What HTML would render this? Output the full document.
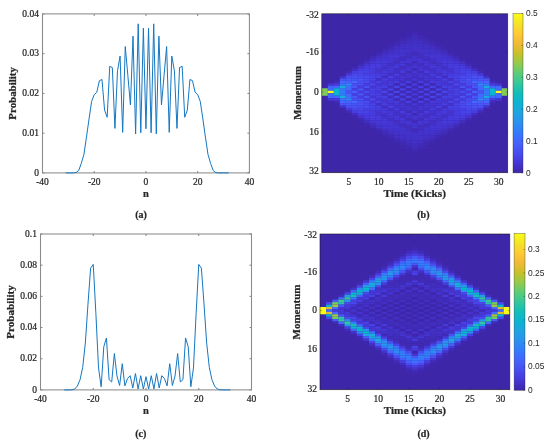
<!DOCTYPE html><html><head><meta charset="utf-8"><style>html,body{margin:0;padding:0;background:#fff;}svg{display:block}</style></head><body>
<svg width="550" height="443" viewBox="0 0 550 443" font-family="'Liberation Serif', serif" font-size="9.5" fill="#262626">
<style>text{stroke:#262626;stroke-width:0.22px;paint-order:stroke}</style>
<rect width="550" height="443" fill="#fff"/>
<rect x="42.5" y="13.9" width="206.9" height="159" fill="none" stroke="#8a8a8a" stroke-width="1.05"/>
<line x1="42.5" y1="172.9" x2="42.5" y2="170.9" stroke="#8a8a8a" stroke-width="1.05"/>
<line x1="42.5" y1="13.9" x2="42.5" y2="15.9" stroke="#8a8a8a" stroke-width="1.05"/>
<text x="42.5" y="185" text-anchor="middle">-40</text>
<line x1="94.22" y1="172.9" x2="94.22" y2="170.9" stroke="#8a8a8a" stroke-width="1.05"/>
<line x1="94.22" y1="13.9" x2="94.22" y2="15.9" stroke="#8a8a8a" stroke-width="1.05"/>
<text x="94.22" y="185" text-anchor="middle">-20</text>
<line x1="145.95" y1="172.9" x2="145.95" y2="170.9" stroke="#8a8a8a" stroke-width="1.05"/>
<line x1="145.95" y1="13.9" x2="145.95" y2="15.9" stroke="#8a8a8a" stroke-width="1.05"/>
<text x="145.95" y="185" text-anchor="middle">0</text>
<line x1="197.68" y1="172.9" x2="197.68" y2="170.9" stroke="#8a8a8a" stroke-width="1.05"/>
<line x1="197.68" y1="13.9" x2="197.68" y2="15.9" stroke="#8a8a8a" stroke-width="1.05"/>
<text x="197.68" y="185" text-anchor="middle">20</text>
<line x1="249.4" y1="172.9" x2="249.4" y2="170.9" stroke="#8a8a8a" stroke-width="1.05"/>
<line x1="249.4" y1="13.9" x2="249.4" y2="15.9" stroke="#8a8a8a" stroke-width="1.05"/>
<text x="249.4" y="185" text-anchor="middle">40</text>
<line x1="42.5" y1="172.9" x2="44.5" y2="172.9" stroke="#8a8a8a" stroke-width="1.05"/>
<line x1="249.4" y1="172.9" x2="247.4" y2="172.9" stroke="#8a8a8a" stroke-width="1.05"/>
<text x="38.9" y="175.5" text-anchor="end">0</text>
<line x1="42.5" y1="133.15" x2="44.5" y2="133.15" stroke="#8a8a8a" stroke-width="1.05"/>
<line x1="249.4" y1="133.15" x2="247.4" y2="133.15" stroke="#8a8a8a" stroke-width="1.05"/>
<text x="38.9" y="135.75" text-anchor="end">0.01</text>
<line x1="42.5" y1="93.4" x2="44.5" y2="93.4" stroke="#8a8a8a" stroke-width="1.05"/>
<line x1="249.4" y1="93.4" x2="247.4" y2="93.4" stroke="#8a8a8a" stroke-width="1.05"/>
<text x="38.9" y="96" text-anchor="end">0.02</text>
<line x1="42.5" y1="53.65" x2="44.5" y2="53.65" stroke="#8a8a8a" stroke-width="1.05"/>
<line x1="249.4" y1="53.65" x2="247.4" y2="53.65" stroke="#8a8a8a" stroke-width="1.05"/>
<text x="38.9" y="56.25" text-anchor="end">0.03</text>
<line x1="42.5" y1="13.9" x2="44.5" y2="13.9" stroke="#8a8a8a" stroke-width="1.05"/>
<line x1="249.4" y1="13.9" x2="247.4" y2="13.9" stroke="#8a8a8a" stroke-width="1.05"/>
<text x="38.9" y="16.5" text-anchor="end">0.04</text>
<polyline points="65.78,172.9 68.36,172.9 70.95,172.9 73.53,172.9 76.12,172.5 78.71,170.52 81.29,163.36 83.88,154.62 86.47,137.12 89.05,118.84 91.64,101.35 94.22,94.59 96.81,92.21 99.4,80.68 101.98,79.49 104.57,110.09 107.16,117.25 109.74,66.37 112.33,67.56 114.92,128.38 117.5,70.74 120.09,56.04 122.67,132.36 125.26,46.5 127.85,75.51 130.43,104.93 133.02,36.16 135.61,133.94 138.19,23.84 140.78,132.75 143.36,28.21 145.95,128.78 148.54,28.21 151.12,132.75 153.71,23.84 156.3,133.94 158.88,36.16 161.47,104.93 164.05,75.51 166.64,46.5 169.23,132.36 171.81,56.04 174.4,70.74 176.99,128.38 179.57,67.56 182.16,66.37 184.74,117.25 187.33,110.09 189.92,79.49 192.5,80.68 195.09,92.21 197.68,94.59 200.26,101.35 202.85,118.84 205.43,137.12 208.02,154.62 210.61,163.36 213.19,170.52 215.78,172.5 218.37,172.9 220.95,172.9 223.54,172.9 226.12,172.9 228.71,172.9" fill="none" stroke="#1477c2" stroke-width="1.0" stroke-linejoin="round"/>
<text x="145.95" y="196.5" text-anchor="middle" font-weight="bold" font-size="10.5">n</text>
<text transform="translate(16.1,93.4) rotate(-90)" x="-26.3" font-weight="bold" font-size="9.6" textLength="52.6" lengthAdjust="spacingAndGlyphs">Probability</text>
<text x="141" y="217.6" text-anchor="middle" font-weight="bold" font-size="10">(a)</text>
<rect x="40.5" y="234" width="211" height="155.9" fill="none" stroke="#8a8a8a" stroke-width="1.05"/>
<line x1="40.5" y1="389.9" x2="40.5" y2="387.9" stroke="#8a8a8a" stroke-width="1.05"/>
<line x1="40.5" y1="234" x2="40.5" y2="236" stroke="#8a8a8a" stroke-width="1.05"/>
<text x="40.5" y="401.8" text-anchor="middle">-40</text>
<line x1="93.25" y1="389.9" x2="93.25" y2="387.9" stroke="#8a8a8a" stroke-width="1.05"/>
<line x1="93.25" y1="234" x2="93.25" y2="236" stroke="#8a8a8a" stroke-width="1.05"/>
<text x="93.25" y="401.8" text-anchor="middle">-20</text>
<line x1="146" y1="389.9" x2="146" y2="387.9" stroke="#8a8a8a" stroke-width="1.05"/>
<line x1="146" y1="234" x2="146" y2="236" stroke="#8a8a8a" stroke-width="1.05"/>
<text x="146" y="401.8" text-anchor="middle">0</text>
<line x1="198.75" y1="389.9" x2="198.75" y2="387.9" stroke="#8a8a8a" stroke-width="1.05"/>
<line x1="198.75" y1="234" x2="198.75" y2="236" stroke="#8a8a8a" stroke-width="1.05"/>
<text x="198.75" y="401.8" text-anchor="middle">20</text>
<line x1="251.5" y1="389.9" x2="251.5" y2="387.9" stroke="#8a8a8a" stroke-width="1.05"/>
<line x1="251.5" y1="234" x2="251.5" y2="236" stroke="#8a8a8a" stroke-width="1.05"/>
<text x="251.5" y="401.8" text-anchor="middle">40</text>
<line x1="40.5" y1="389.9" x2="42.5" y2="389.9" stroke="#8a8a8a" stroke-width="1.05"/>
<line x1="251.5" y1="389.9" x2="249.5" y2="389.9" stroke="#8a8a8a" stroke-width="1.05"/>
<text x="36.9" y="392.5" text-anchor="end">0</text>
<line x1="40.5" y1="358.72" x2="42.5" y2="358.72" stroke="#8a8a8a" stroke-width="1.05"/>
<line x1="251.5" y1="358.72" x2="249.5" y2="358.72" stroke="#8a8a8a" stroke-width="1.05"/>
<text x="36.9" y="361.32" text-anchor="end">0.02</text>
<line x1="40.5" y1="327.54" x2="42.5" y2="327.54" stroke="#8a8a8a" stroke-width="1.05"/>
<line x1="251.5" y1="327.54" x2="249.5" y2="327.54" stroke="#8a8a8a" stroke-width="1.05"/>
<text x="36.9" y="330.14" text-anchor="end">0.04</text>
<line x1="40.5" y1="296.36" x2="42.5" y2="296.36" stroke="#8a8a8a" stroke-width="1.05"/>
<line x1="251.5" y1="296.36" x2="249.5" y2="296.36" stroke="#8a8a8a" stroke-width="1.05"/>
<text x="36.9" y="298.96" text-anchor="end">0.06</text>
<line x1="40.5" y1="265.18" x2="42.5" y2="265.18" stroke="#8a8a8a" stroke-width="1.05"/>
<line x1="251.5" y1="265.18" x2="249.5" y2="265.18" stroke="#8a8a8a" stroke-width="1.05"/>
<text x="36.9" y="267.78" text-anchor="end">0.08</text>
<line x1="40.5" y1="234" x2="42.5" y2="234" stroke="#8a8a8a" stroke-width="1.05"/>
<line x1="251.5" y1="234" x2="249.5" y2="234" stroke="#8a8a8a" stroke-width="1.05"/>
<text x="36.9" y="236.6" text-anchor="end">0.1</text>
<polyline points="64.24,389.9 66.88,389.9 69.51,389.9 72.15,389.74 74.79,388.96 77.43,386 80.06,379.77 82.7,367.29 85.34,343.13 87.97,304.15 90.61,268.14 93.25,264.4 95.89,313.51 98.53,367.92 101.16,386.78 103.8,346.56 106.44,337.99 109.08,379.61 111.71,381.95 114.35,353.58 116.99,376.02 119.62,385.53 122.26,363.71 124.9,385.85 127.54,378.52 130.18,375.71 132.81,388.03 135.45,373.53 138.09,388.96 140.73,375.71 143.36,388.96 146,376.65 148.64,388.96 151.28,375.71 153.91,388.96 156.55,373.53 159.19,388.03 161.82,375.71 164.46,378.52 167.1,385.85 169.74,363.71 172.38,385.53 175.01,376.02 177.65,353.58 180.29,381.95 182.93,379.61 185.56,337.99 188.2,346.56 190.84,386.78 193.48,367.92 196.11,313.51 198.75,264.4 201.39,268.14 204.03,304.15 206.66,343.13 209.3,367.29 211.94,379.77 214.58,386 217.21,388.96 219.85,389.74 222.49,389.9 225.12,389.9 227.76,389.9 230.4,389.9" fill="none" stroke="#1477c2" stroke-width="1.0" stroke-linejoin="round"/>
<text x="146" y="413.7" text-anchor="middle" font-weight="bold" font-size="10.5">n</text>
<text transform="translate(13.5,312) rotate(-90)" x="-26.7" font-weight="bold" font-size="9.6" textLength="53.4" lengthAdjust="spacingAndGlyphs">Probability</text>
<text x="140.8" y="436.6" text-anchor="middle" font-weight="bold" font-size="10">(c)</text>
<rect x="321.8" y="13.8" width="185.9" height="158.9" fill="#3e26a8"/>
<defs><clipPath id="cpb"><rect x="321.8" y="13.8" width="185.9" height="158.9"/></clipPath><filter id="blb" x="-5%" y="-5%" width="110%" height="110%"><feGaussianBlur stdDeviation="0.35"/></filter></defs>
<g clip-path="url(#cpb)"><g filter="url(#blb)">
<rect x="321.8" y="88.28" width="6.02" height="7.47" fill="#81cc59"/>
<rect x="327.8" y="83.32" width="6.02" height="2.5" fill="#4536d3"/>
<rect x="327.8" y="85.8" width="6.02" height="4.99" fill="#4367fd"/>
<rect x="327.8" y="90.77" width="6.02" height="2.5" fill="#f9fb15"/>
<rect x="327.8" y="93.25" width="6.02" height="4.99" fill="#4367fd"/>
<rect x="327.8" y="98.22" width="6.02" height="2.5" fill="#4536d3"/>
<rect x="333.79" y="80.84" width="6.02" height="2.5" fill="#402bb7"/>
<rect x="333.79" y="83.32" width="6.02" height="2.5" fill="#463cde"/>
<rect x="333.79" y="85.8" width="6.02" height="2.5" fill="#4367fd"/>
<rect x="333.79" y="88.28" width="6.02" height="7.47" fill="#0bb4d2"/>
<rect x="333.79" y="95.73" width="6.02" height="2.5" fill="#4367fd"/>
<rect x="333.79" y="98.22" width="6.02" height="2.5" fill="#463cde"/>
<rect x="333.79" y="100.7" width="6.02" height="2.5" fill="#402bb7"/>
<rect x="339.79" y="73.39" width="6.02" height="2.5" fill="#3e27aa"/>
<rect x="339.79" y="75.87" width="6.02" height="2.5" fill="#4331c8"/>
<rect x="339.79" y="78.35" width="6.02" height="2.5" fill="#4854f5"/>
<rect x="339.79" y="80.84" width="6.02" height="2.5" fill="#426afe"/>
<rect x="339.79" y="83.32" width="6.02" height="2.5" fill="#3a74ff"/>
<rect x="339.79" y="85.8" width="6.02" height="2.5" fill="#16afd9"/>
<rect x="339.79" y="88.28" width="6.02" height="2.5" fill="#2e83f9"/>
<rect x="339.79" y="90.77" width="6.02" height="2.5" fill="#307ffb"/>
<rect x="339.79" y="93.25" width="6.02" height="2.5" fill="#2e83f9"/>
<rect x="339.79" y="95.73" width="6.02" height="2.5" fill="#16afd9"/>
<rect x="339.79" y="98.22" width="6.02" height="2.5" fill="#3a74ff"/>
<rect x="339.79" y="100.7" width="6.02" height="2.5" fill="#426afe"/>
<rect x="339.79" y="103.18" width="6.02" height="2.5" fill="#4854f5"/>
<rect x="339.79" y="105.66" width="6.02" height="2.5" fill="#4331c8"/>
<rect x="339.79" y="108.15" width="6.02" height="2.5" fill="#3e27aa"/>
<rect x="345.79" y="68.42" width="6.02" height="2.5" fill="#3e27a9"/>
<rect x="345.79" y="70.9" width="6.02" height="2.5" fill="#402bb6"/>
<rect x="345.79" y="73.39" width="6.02" height="2.5" fill="#463adb"/>
<rect x="345.79" y="75.87" width="6.02" height="2.5" fill="#4850f2"/>
<rect x="345.79" y="78.35" width="6.02" height="2.5" fill="#475af9"/>
<rect x="345.79" y="80.84" width="6.02" height="2.5" fill="#465ffb"/>
<rect x="345.79" y="83.32" width="6.02" height="2.5" fill="#2d89f5"/>
<rect x="345.79" y="85.8" width="6.02" height="4.99" fill="#416bfe"/>
<rect x="345.79" y="90.77" width="6.02" height="2.5" fill="#4851f3"/>
<rect x="345.79" y="93.25" width="6.02" height="4.99" fill="#416bfe"/>
<rect x="345.79" y="98.22" width="6.02" height="2.5" fill="#2d89f5"/>
<rect x="345.79" y="100.7" width="6.02" height="2.5" fill="#465ffb"/>
<rect x="345.79" y="103.18" width="6.02" height="2.5" fill="#475af9"/>
<rect x="345.79" y="105.66" width="6.02" height="2.5" fill="#4850f2"/>
<rect x="345.79" y="108.15" width="6.02" height="2.5" fill="#463adb"/>
<rect x="345.79" y="110.63" width="6.02" height="2.5" fill="#402bb6"/>
<rect x="345.79" y="113.11" width="6.02" height="2.5" fill="#3e27a9"/>
<rect x="351.78" y="63.46" width="6.02" height="2.5" fill="#3e26a9"/>
<rect x="351.78" y="65.94" width="6.02" height="2.5" fill="#3f28af"/>
<rect x="351.78" y="68.42" width="6.02" height="2.5" fill="#422fc2"/>
<rect x="351.78" y="70.9" width="6.02" height="2.5" fill="#463de0"/>
<rect x="351.78" y="73.39" width="6.02" height="2.5" fill="#4849ed"/>
<rect x="351.78" y="75.87" width="6.02" height="2.5" fill="#4851f3"/>
<rect x="351.78" y="78.35" width="6.02" height="2.5" fill="#4853f5"/>
<rect x="351.78" y="80.84" width="6.02" height="2.5" fill="#4368fe"/>
<rect x="351.78" y="83.32" width="6.02" height="2.5" fill="#4850f3"/>
<rect x="351.78" y="85.8" width="6.02" height="2.5" fill="#4759f8"/>
<rect x="351.78" y="88.28" width="6.02" height="2.5" fill="#4740e4"/>
<rect x="351.78" y="90.77" width="6.02" height="2.5" fill="#4562fc"/>
<rect x="351.78" y="93.25" width="6.02" height="2.5" fill="#4740e4"/>
<rect x="351.78" y="95.73" width="6.02" height="2.5" fill="#4759f8"/>
<rect x="351.78" y="98.22" width="6.02" height="2.5" fill="#4850f3"/>
<rect x="351.78" y="100.7" width="6.02" height="2.5" fill="#4368fe"/>
<rect x="351.78" y="103.18" width="6.02" height="2.5" fill="#4853f5"/>
<rect x="351.78" y="105.66" width="6.02" height="2.5" fill="#4851f3"/>
<rect x="351.78" y="108.15" width="6.02" height="2.5" fill="#4849ed"/>
<rect x="351.78" y="110.63" width="6.02" height="2.5" fill="#463de0"/>
<rect x="351.78" y="113.11" width="6.02" height="2.5" fill="#422fc2"/>
<rect x="351.78" y="115.6" width="6.02" height="2.5" fill="#3f28af"/>
<rect x="351.78" y="118.08" width="6.02" height="2.5" fill="#3e26a9"/>
<rect x="357.78" y="60.97" width="6.02" height="2.5" fill="#3e27ab"/>
<rect x="357.78" y="63.46" width="6.02" height="2.5" fill="#402bb6"/>
<rect x="357.78" y="65.94" width="6.02" height="2.5" fill="#4433cb"/>
<rect x="357.78" y="68.42" width="6.02" height="2.5" fill="#463de1"/>
<rect x="357.78" y="70.9" width="6.02" height="2.5" fill="#4744e8"/>
<rect x="357.78" y="73.39" width="6.02" height="2.5" fill="#4848ec"/>
<rect x="357.78" y="75.87" width="6.02" height="2.5" fill="#4849ed"/>
<rect x="357.78" y="78.35" width="6.02" height="2.5" fill="#4757f8"/>
<rect x="357.78" y="80.84" width="6.02" height="2.5" fill="#484ef1"/>
<rect x="357.78" y="83.32" width="6.02" height="2.5" fill="#4852f4"/>
<rect x="357.78" y="85.8" width="6.02" height="2.5" fill="#463bdd"/>
<rect x="357.78" y="88.28" width="6.02" height="2.5" fill="#475af9"/>
<rect x="357.78" y="90.77" width="6.02" height="2.5" fill="#463bdd"/>
<rect x="357.78" y="93.25" width="6.02" height="2.5" fill="#475af9"/>
<rect x="357.78" y="95.73" width="6.02" height="2.5" fill="#463bdd"/>
<rect x="357.78" y="98.22" width="6.02" height="2.5" fill="#4852f4"/>
<rect x="357.78" y="100.7" width="6.02" height="2.5" fill="#484ef1"/>
<rect x="357.78" y="103.18" width="6.02" height="2.5" fill="#4757f8"/>
<rect x="357.78" y="105.66" width="6.02" height="2.5" fill="#4849ed"/>
<rect x="357.78" y="108.15" width="6.02" height="2.5" fill="#4848ec"/>
<rect x="357.78" y="110.63" width="6.02" height="2.5" fill="#4744e8"/>
<rect x="357.78" y="113.11" width="6.02" height="2.5" fill="#463de1"/>
<rect x="357.78" y="115.6" width="6.02" height="2.5" fill="#4433cb"/>
<rect x="357.78" y="118.08" width="6.02" height="2.5" fill="#402bb6"/>
<rect x="357.78" y="120.56" width="6.02" height="2.5" fill="#3e27ab"/>
<rect x="363.78" y="56.01" width="6.02" height="2.5" fill="#3e27a9"/>
<rect x="363.78" y="58.49" width="6.02" height="2.5" fill="#3f28af"/>
<rect x="363.78" y="60.97" width="6.02" height="2.5" fill="#412dbc"/>
<rect x="363.78" y="63.46" width="6.02" height="2.5" fill="#4435d0"/>
<rect x="363.78" y="65.94" width="6.02" height="2.5" fill="#463bde"/>
<rect x="363.78" y="68.42" width="6.02" height="2.5" fill="#4740e3"/>
<rect x="363.78" y="70.9" width="6.02" height="2.5" fill="#4743e7"/>
<rect x="363.78" y="73.39" width="6.02" height="2.5" fill="#4741e5"/>
<rect x="363.78" y="75.87" width="6.02" height="2.5" fill="#484cef"/>
<rect x="363.78" y="78.35" width="6.02" height="2.5" fill="#4848ec"/>
<rect x="363.78" y="80.84" width="6.02" height="2.5" fill="#484bef"/>
<rect x="363.78" y="83.32" width="6.02" height="2.5" fill="#463cdf"/>
<rect x="363.78" y="85.8" width="6.02" height="2.5" fill="#4852f4"/>
<rect x="363.78" y="88.28" width="6.02" height="2.5" fill="#4538d7"/>
<rect x="363.78" y="90.77" width="6.02" height="2.5" fill="#484ef1"/>
<rect x="363.78" y="93.25" width="6.02" height="2.5" fill="#4538d7"/>
<rect x="363.78" y="95.73" width="6.02" height="2.5" fill="#4852f4"/>
<rect x="363.78" y="98.22" width="6.02" height="2.5" fill="#463cdf"/>
<rect x="363.78" y="100.7" width="6.02" height="2.5" fill="#484bef"/>
<rect x="363.78" y="103.18" width="6.02" height="2.5" fill="#4848ec"/>
<rect x="363.78" y="105.66" width="6.02" height="2.5" fill="#484cef"/>
<rect x="363.78" y="108.15" width="6.02" height="2.5" fill="#4741e5"/>
<rect x="363.78" y="110.63" width="6.02" height="2.5" fill="#4743e7"/>
<rect x="363.78" y="113.11" width="6.02" height="2.5" fill="#4740e3"/>
<rect x="363.78" y="115.6" width="6.02" height="2.5" fill="#463bde"/>
<rect x="363.78" y="118.08" width="6.02" height="2.5" fill="#4435d0"/>
<rect x="363.78" y="120.56" width="6.02" height="2.5" fill="#412dbc"/>
<rect x="363.78" y="123.04" width="6.02" height="2.5" fill="#3f28af"/>
<rect x="363.78" y="125.53" width="6.02" height="2.5" fill="#3e27a9"/>
<rect x="369.77" y="51.04" width="6.02" height="2.5" fill="#3e26a9"/>
<rect x="369.77" y="53.52" width="6.02" height="2.5" fill="#3e27ac"/>
<rect x="369.77" y="56.01" width="6.02" height="2.5" fill="#402ab4"/>
<rect x="369.77" y="58.49" width="6.02" height="2.5" fill="#422fc2"/>
<rect x="369.77" y="60.97" width="6.02" height="2.5" fill="#4535d2"/>
<rect x="369.77" y="63.46" width="6.02" height="2.5" fill="#463adb"/>
<rect x="369.77" y="65.94" width="6.02" height="2.5" fill="#463de0"/>
<rect x="369.77" y="68.42" width="6.02" height="2.5" fill="#473ee2"/>
<rect x="369.77" y="70.9" width="6.02" height="2.5" fill="#463adc"/>
<rect x="369.77" y="73.39" width="6.02" height="2.5" fill="#4741e4"/>
<rect x="369.77" y="75.87" width="6.02" height="2.5" fill="#4743e7"/>
<rect x="369.77" y="78.35" width="6.02" height="2.5" fill="#4744e8"/>
<rect x="369.77" y="80.84" width="6.02" height="2.5" fill="#4538d8"/>
<rect x="369.77" y="83.32" width="6.02" height="2.5" fill="#4849ed"/>
<rect x="369.77" y="85.8" width="6.02" height="2.5" fill="#4535d2"/>
<rect x="369.77" y="88.28" width="6.02" height="2.5" fill="#4744e8"/>
<rect x="369.77" y="90.77" width="6.02" height="2.5" fill="#463cdf"/>
<rect x="369.77" y="93.25" width="6.02" height="2.5" fill="#4744e8"/>
<rect x="369.77" y="95.73" width="6.02" height="2.5" fill="#4535d2"/>
<rect x="369.77" y="98.22" width="6.02" height="2.5" fill="#4849ed"/>
<rect x="369.77" y="100.7" width="6.02" height="2.5" fill="#4538d8"/>
<rect x="369.77" y="103.18" width="6.02" height="2.5" fill="#4744e8"/>
<rect x="369.77" y="105.66" width="6.02" height="2.5" fill="#4743e7"/>
<rect x="369.77" y="108.15" width="6.02" height="2.5" fill="#4741e4"/>
<rect x="369.77" y="110.63" width="6.02" height="2.5" fill="#463adc"/>
<rect x="369.77" y="113.11" width="6.02" height="2.5" fill="#473ee2"/>
<rect x="369.77" y="115.6" width="6.02" height="2.5" fill="#463de0"/>
<rect x="369.77" y="118.08" width="6.02" height="2.5" fill="#463adb"/>
<rect x="369.77" y="120.56" width="6.02" height="2.5" fill="#4535d2"/>
<rect x="369.77" y="123.04" width="6.02" height="2.5" fill="#422fc2"/>
<rect x="369.77" y="125.53" width="6.02" height="2.5" fill="#402ab4"/>
<rect x="369.77" y="128.01" width="6.02" height="2.5" fill="#3e27ac"/>
<rect x="369.77" y="130.49" width="6.02" height="2.5" fill="#3e26a9"/>
<rect x="375.77" y="46.08" width="6.02" height="2.5" fill="#3e26a9"/>
<rect x="375.77" y="48.56" width="6.02" height="2.5" fill="#3e27aa"/>
<rect x="375.77" y="51.04" width="6.02" height="2.5" fill="#3f28af"/>
<rect x="375.77" y="53.52" width="6.02" height="2.5" fill="#402bb8"/>
<rect x="375.77" y="56.01" width="6.02" height="2.5" fill="#4330c5"/>
<rect x="375.77" y="58.49" width="6.02" height="2.5" fill="#4535d2"/>
<rect x="375.77" y="60.97" width="6.02" height="2.5" fill="#4538d7"/>
<rect x="375.77" y="63.46" width="6.02" height="2.5" fill="#463bdd"/>
<rect x="375.77" y="65.94" width="6.02" height="2.5" fill="#463adc"/>
<rect x="375.77" y="68.42" width="6.02" height="2.5" fill="#4434cf"/>
<rect x="375.77" y="70.9" width="6.02" height="2.5" fill="#4435d1"/>
<rect x="375.77" y="73.39" width="6.02" height="2.5" fill="#463de0"/>
<rect x="375.77" y="75.87" width="6.02" height="2.5" fill="#4740e4"/>
<rect x="375.77" y="78.35" width="6.02" height="2.5" fill="#4331c8"/>
<rect x="375.77" y="80.84" width="6.02" height="2.5" fill="#4742e6"/>
<rect x="375.77" y="83.32" width="6.02" height="2.5" fill="#4435d1"/>
<rect x="375.77" y="85.8" width="6.02" height="2.5" fill="#463de0"/>
<rect x="375.77" y="88.28" width="6.02" height="2.5" fill="#473fe2"/>
<rect x="375.77" y="90.77" width="6.02" height="2.5" fill="#4537d6"/>
<rect x="375.77" y="93.25" width="6.02" height="2.5" fill="#473fe2"/>
<rect x="375.77" y="95.73" width="6.02" height="2.5" fill="#463de0"/>
<rect x="375.77" y="98.22" width="6.02" height="2.5" fill="#4435d1"/>
<rect x="375.77" y="100.7" width="6.02" height="2.5" fill="#4742e6"/>
<rect x="375.77" y="103.18" width="6.02" height="2.5" fill="#4331c8"/>
<rect x="375.77" y="105.66" width="6.02" height="2.5" fill="#4740e4"/>
<rect x="375.77" y="108.15" width="6.02" height="2.5" fill="#463de0"/>
<rect x="375.77" y="110.63" width="6.02" height="2.5" fill="#4435d1"/>
<rect x="375.77" y="113.11" width="6.02" height="2.5" fill="#4434cf"/>
<rect x="375.77" y="115.6" width="6.02" height="2.5" fill="#463adc"/>
<rect x="375.77" y="118.08" width="6.02" height="2.5" fill="#463bdd"/>
<rect x="375.77" y="120.56" width="6.02" height="2.5" fill="#4538d7"/>
<rect x="375.77" y="123.04" width="6.02" height="2.5" fill="#4535d2"/>
<rect x="375.77" y="125.53" width="6.02" height="2.5" fill="#4330c5"/>
<rect x="375.77" y="128.01" width="6.02" height="2.5" fill="#402bb8"/>
<rect x="375.77" y="130.49" width="6.02" height="2.5" fill="#3f28af"/>
<rect x="375.77" y="132.97" width="6.02" height="2.5" fill="#3e27aa"/>
<rect x="375.77" y="135.46" width="6.02" height="2.5" fill="#3e26a9"/>
<rect x="381.77" y="43.59" width="6.02" height="2.5" fill="#3e26a9"/>
<rect x="381.77" y="46.08" width="6.02" height="2.5" fill="#3e27ac"/>
<rect x="381.77" y="48.56" width="6.02" height="2.5" fill="#3f29b2"/>
<rect x="381.77" y="51.04" width="6.02" height="2.5" fill="#412dbb"/>
<rect x="381.77" y="53.52" width="6.02" height="2.5" fill="#4331c7"/>
<rect x="381.77" y="56.01" width="6.02" height="2.5" fill="#4434d0"/>
<rect x="381.77" y="58.49" width="6.02" height="2.5" fill="#4536d5"/>
<rect x="381.77" y="60.97" width="6.02" height="2.5" fill="#4639da"/>
<rect x="381.77" y="63.46" width="6.02" height="2.5" fill="#4537d5"/>
<rect x="381.77" y="65.94" width="6.02" height="2.5" fill="#4332c9"/>
<rect x="381.77" y="68.42" width="6.02" height="2.5" fill="#4435d0"/>
<rect x="381.77" y="70.9" width="6.02" height="2.5" fill="#463adc"/>
<rect x="381.77" y="73.39" width="6.02" height="2.5" fill="#463adb"/>
<rect x="381.77" y="75.87" width="6.02" height="2.5" fill="#422ebf"/>
<rect x="381.77" y="78.35" width="6.02" height="2.5" fill="#4741e5"/>
<rect x="381.77" y="80.84" width="6.02" height="2.5" fill="#4435d1"/>
<rect x="381.77" y="83.32" width="6.02" height="2.5" fill="#4639da"/>
<rect x="381.77" y="85.8" width="6.02" height="2.5" fill="#473fe3"/>
<rect x="381.77" y="88.28" width="6.02" height="2.5" fill="#4331c6"/>
<rect x="381.77" y="90.77" width="6.02" height="2.5" fill="#4744e8"/>
<rect x="381.77" y="93.25" width="6.02" height="2.5" fill="#4331c6"/>
<rect x="381.77" y="95.73" width="6.02" height="2.5" fill="#473fe3"/>
<rect x="381.77" y="98.22" width="6.02" height="2.5" fill="#4639da"/>
<rect x="381.77" y="100.7" width="6.02" height="2.5" fill="#4435d1"/>
<rect x="381.77" y="103.18" width="6.02" height="2.5" fill="#4741e5"/>
<rect x="381.77" y="105.66" width="6.02" height="2.5" fill="#422ebf"/>
<rect x="381.77" y="108.15" width="6.02" height="2.5" fill="#463adb"/>
<rect x="381.77" y="110.63" width="6.02" height="2.5" fill="#463adc"/>
<rect x="381.77" y="113.11" width="6.02" height="2.5" fill="#4435d0"/>
<rect x="381.77" y="115.6" width="6.02" height="2.5" fill="#4332c9"/>
<rect x="381.77" y="118.08" width="6.02" height="2.5" fill="#4537d5"/>
<rect x="381.77" y="120.56" width="6.02" height="2.5" fill="#4639da"/>
<rect x="381.77" y="123.04" width="6.02" height="2.5" fill="#4536d5"/>
<rect x="381.77" y="125.53" width="6.02" height="2.5" fill="#4434d0"/>
<rect x="381.77" y="128.01" width="6.02" height="2.5" fill="#4331c7"/>
<rect x="381.77" y="130.49" width="6.02" height="2.5" fill="#412dbb"/>
<rect x="381.77" y="132.97" width="6.02" height="2.5" fill="#3f29b2"/>
<rect x="381.77" y="135.46" width="6.02" height="2.5" fill="#3e27ac"/>
<rect x="381.77" y="137.94" width="6.02" height="2.5" fill="#3e26a9"/>
<rect x="387.76" y="38.63" width="6.02" height="2.5" fill="#3e26a9"/>
<rect x="387.76" y="41.11" width="6.02" height="2.5" fill="#3e27aa"/>
<rect x="387.76" y="43.59" width="6.02" height="2.5" fill="#3f28ae"/>
<rect x="387.76" y="46.08" width="6.02" height="2.5" fill="#402ab5"/>
<rect x="387.76" y="48.56" width="6.02" height="2.5" fill="#422ebe"/>
<rect x="387.76" y="51.04" width="6.02" height="2.5" fill="#4331c8"/>
<rect x="387.76" y="53.52" width="6.02" height="2.5" fill="#4434ce"/>
<rect x="387.76" y="56.01" width="6.02" height="2.5" fill="#4535d2"/>
<rect x="387.76" y="58.49" width="6.02" height="2.5" fill="#4537d6"/>
<rect x="387.76" y="60.97" width="6.02" height="2.5" fill="#4434cf"/>
<rect x="387.76" y="63.46" width="6.02" height="2.5" fill="#4230c4"/>
<rect x="387.76" y="65.94" width="6.02" height="2.5" fill="#4435d1"/>
<rect x="387.76" y="68.42" width="6.02" height="2.5" fill="#463adb"/>
<rect x="387.76" y="70.9" width="6.02" height="2.5" fill="#4535d3"/>
<rect x="387.76" y="73.39" width="6.02" height="2.5" fill="#4330c5"/>
<rect x="387.76" y="75.87" width="6.02" height="2.5" fill="#4740e4"/>
<rect x="387.76" y="78.35" width="6.02" height="2.5" fill="#4435d1"/>
<rect x="387.76" y="80.84" width="6.02" height="2.5" fill="#4538d7"/>
<rect x="387.76" y="83.32" width="6.02" height="2.5" fill="#463cdf"/>
<rect x="387.76" y="85.8" width="6.02" height="2.5" fill="#412ebe"/>
<rect x="387.76" y="88.28" width="6.02" height="2.5" fill="#4745e9"/>
<rect x="387.76" y="90.77" width="6.02" height="2.5" fill="#412cb9"/>
<rect x="387.76" y="93.25" width="6.02" height="2.5" fill="#4745e9"/>
<rect x="387.76" y="95.73" width="6.02" height="2.5" fill="#412ebe"/>
<rect x="387.76" y="98.22" width="6.02" height="2.5" fill="#463cdf"/>
<rect x="387.76" y="100.7" width="6.02" height="2.5" fill="#4538d7"/>
<rect x="387.76" y="103.18" width="6.02" height="2.5" fill="#4435d1"/>
<rect x="387.76" y="105.66" width="6.02" height="2.5" fill="#4740e4"/>
<rect x="387.76" y="108.15" width="6.02" height="2.5" fill="#4330c5"/>
<rect x="387.76" y="110.63" width="6.02" height="2.5" fill="#4535d3"/>
<rect x="387.76" y="113.11" width="6.02" height="2.5" fill="#463adb"/>
<rect x="387.76" y="115.6" width="6.02" height="2.5" fill="#4435d1"/>
<rect x="387.76" y="118.08" width="6.02" height="2.5" fill="#4230c4"/>
<rect x="387.76" y="120.56" width="6.02" height="2.5" fill="#4434cf"/>
<rect x="387.76" y="123.04" width="6.02" height="2.5" fill="#4537d6"/>
<rect x="387.76" y="125.53" width="6.02" height="2.5" fill="#4535d2"/>
<rect x="387.76" y="128.01" width="6.02" height="2.5" fill="#4434ce"/>
<rect x="387.76" y="130.49" width="6.02" height="2.5" fill="#4331c8"/>
<rect x="387.76" y="132.97" width="6.02" height="2.5" fill="#422ebe"/>
<rect x="387.76" y="135.46" width="6.02" height="2.5" fill="#402ab5"/>
<rect x="387.76" y="137.94" width="6.02" height="2.5" fill="#3f28ae"/>
<rect x="387.76" y="140.42" width="6.02" height="2.5" fill="#3e27aa"/>
<rect x="387.76" y="142.91" width="6.02" height="2.5" fill="#3e26a9"/>
<rect x="393.76" y="36.15" width="6.02" height="2.5" fill="#3e27a9"/>
<rect x="393.76" y="38.63" width="6.02" height="2.5" fill="#3e27ac"/>
<rect x="393.76" y="41.11" width="6.02" height="2.5" fill="#3f29b0"/>
<rect x="393.76" y="43.59" width="6.02" height="2.5" fill="#402bb7"/>
<rect x="393.76" y="46.08" width="6.02" height="2.5" fill="#422fc0"/>
<rect x="393.76" y="48.56" width="6.02" height="2.5" fill="#4331c8"/>
<rect x="393.76" y="51.04" width="6.02" height="2.5" fill="#4433cc"/>
<rect x="393.76" y="53.52" width="6.02" height="2.5" fill="#4434d0"/>
<rect x="393.76" y="56.01" width="6.02" height="2.5" fill="#4536d3"/>
<rect x="393.76" y="58.49" width="6.02" height="2.5" fill="#4332c9"/>
<rect x="393.76" y="60.97" width="6.02" height="2.5" fill="#422fc1"/>
<rect x="393.76" y="63.46" width="6.02" height="2.5" fill="#4535d2"/>
<rect x="393.76" y="65.94" width="6.02" height="2.5" fill="#4639d9"/>
<rect x="393.76" y="68.42" width="6.02" height="2.5" fill="#4332c9"/>
<rect x="393.76" y="70.9" width="6.02" height="2.5" fill="#4332ca"/>
<rect x="393.76" y="73.39" width="6.02" height="2.5" fill="#463cdf"/>
<rect x="393.76" y="75.87" width="6.02" height="2.5" fill="#4432cb"/>
<rect x="393.76" y="78.35" width="6.02" height="2.5" fill="#4536d4"/>
<rect x="393.76" y="80.84" width="6.02" height="2.5" fill="#463adb"/>
<rect x="393.76" y="83.32" width="6.02" height="2.5" fill="#412cba"/>
<rect x="393.76" y="85.8" width="6.02" height="2.5" fill="#4744e8"/>
<rect x="393.76" y="88.28" width="6.02" height="2.5" fill="#4029b3"/>
<rect x="393.76" y="90.77" width="6.02" height="2.5" fill="#4745e9"/>
<rect x="393.76" y="93.25" width="6.02" height="2.5" fill="#4029b3"/>
<rect x="393.76" y="95.73" width="6.02" height="2.5" fill="#4744e8"/>
<rect x="393.76" y="98.22" width="6.02" height="2.5" fill="#412cba"/>
<rect x="393.76" y="100.7" width="6.02" height="2.5" fill="#463adb"/>
<rect x="393.76" y="103.18" width="6.02" height="2.5" fill="#4536d4"/>
<rect x="393.76" y="105.66" width="6.02" height="2.5" fill="#4432cb"/>
<rect x="393.76" y="108.15" width="6.02" height="2.5" fill="#463cdf"/>
<rect x="393.76" y="110.63" width="6.02" height="2.5" fill="#4332ca"/>
<rect x="393.76" y="113.11" width="6.02" height="2.5" fill="#4332c9"/>
<rect x="393.76" y="115.6" width="6.02" height="2.5" fill="#4639d9"/>
<rect x="393.76" y="118.08" width="6.02" height="2.5" fill="#4535d2"/>
<rect x="393.76" y="120.56" width="6.02" height="2.5" fill="#422fc1"/>
<rect x="393.76" y="123.04" width="6.02" height="2.5" fill="#4332c9"/>
<rect x="393.76" y="125.53" width="6.02" height="2.5" fill="#4536d3"/>
<rect x="393.76" y="128.01" width="6.02" height="2.5" fill="#4434d0"/>
<rect x="393.76" y="130.49" width="6.02" height="2.5" fill="#4433cc"/>
<rect x="393.76" y="132.97" width="6.02" height="2.5" fill="#4331c8"/>
<rect x="393.76" y="135.46" width="6.02" height="2.5" fill="#422fc0"/>
<rect x="393.76" y="137.94" width="6.02" height="2.5" fill="#402bb7"/>
<rect x="393.76" y="140.42" width="6.02" height="2.5" fill="#3f29b0"/>
<rect x="393.76" y="142.91" width="6.02" height="2.5" fill="#3e27ac"/>
<rect x="393.76" y="145.39" width="6.02" height="2.5" fill="#3e27a9"/>
<rect x="399.76" y="31.18" width="6.02" height="2.5" fill="#3e26a9"/>
<rect x="399.76" y="33.66" width="6.02" height="2.5" fill="#3e27aa"/>
<rect x="399.76" y="36.15" width="6.02" height="2.5" fill="#3f28ad"/>
<rect x="399.76" y="38.63" width="6.02" height="2.5" fill="#3f29b2"/>
<rect x="399.76" y="41.11" width="6.02" height="2.5" fill="#412cb9"/>
<rect x="399.76" y="43.59" width="6.02" height="2.5" fill="#422fc1"/>
<rect x="399.76" y="46.08" width="6.02" height="2.5" fill="#4331c7"/>
<rect x="399.76" y="48.56" width="6.02" height="2.5" fill="#4332ca"/>
<rect x="399.76" y="51.04" width="6.02" height="2.5" fill="#4434ce"/>
<rect x="399.76" y="53.52" width="6.02" height="2.5" fill="#4434cf"/>
<rect x="399.76" y="56.01" width="6.02" height="2.5" fill="#4330c4"/>
<rect x="399.76" y="58.49" width="6.02" height="2.5" fill="#422ec0"/>
<rect x="399.76" y="60.97" width="6.02" height="2.5" fill="#4535d2"/>
<rect x="399.76" y="63.46" width="6.02" height="2.5" fill="#4537d6"/>
<rect x="399.76" y="65.94" width="6.02" height="2.5" fill="#422fc2"/>
<rect x="399.76" y="68.42" width="6.02" height="2.5" fill="#4433cc"/>
<rect x="399.76" y="70.9" width="6.02" height="2.5" fill="#463adb"/>
<rect x="399.76" y="73.39" width="6.02" height="2.5" fill="#4230c3"/>
<rect x="399.76" y="75.87" width="6.02" height="2.5" fill="#4536d3"/>
<rect x="399.76" y="78.35" width="6.02" height="2.5" fill="#4536d4"/>
<rect x="399.76" y="80.84" width="6.02" height="2.5" fill="#412dbc"/>
<rect x="399.76" y="83.32" width="6.02" height="2.5" fill="#4741e5"/>
<rect x="399.76" y="85.8" width="6.02" height="2.5" fill="#3f29b0"/>
<rect x="399.76" y="88.28" width="6.02" height="2.5" fill="#4742e6"/>
<rect x="399.76" y="90.77" width="6.02" height="2.5" fill="#3f29b2"/>
<rect x="399.76" y="93.25" width="6.02" height="2.5" fill="#4742e6"/>
<rect x="399.76" y="95.73" width="6.02" height="2.5" fill="#3f29b0"/>
<rect x="399.76" y="98.22" width="6.02" height="2.5" fill="#4741e5"/>
<rect x="399.76" y="100.7" width="6.02" height="2.5" fill="#412dbc"/>
<rect x="399.76" y="103.18" width="6.02" height="2.5" fill="#4536d4"/>
<rect x="399.76" y="105.66" width="6.02" height="2.5" fill="#4536d3"/>
<rect x="399.76" y="108.15" width="6.02" height="2.5" fill="#4230c3"/>
<rect x="399.76" y="110.63" width="6.02" height="2.5" fill="#463adb"/>
<rect x="399.76" y="113.11" width="6.02" height="2.5" fill="#4433cc"/>
<rect x="399.76" y="115.6" width="6.02" height="2.5" fill="#422fc2"/>
<rect x="399.76" y="118.08" width="6.02" height="2.5" fill="#4537d6"/>
<rect x="399.76" y="120.56" width="6.02" height="2.5" fill="#4535d2"/>
<rect x="399.76" y="123.04" width="6.02" height="2.5" fill="#422ec0"/>
<rect x="399.76" y="125.53" width="6.02" height="2.5" fill="#4330c4"/>
<rect x="399.76" y="128.01" width="6.02" height="2.5" fill="#4434cf"/>
<rect x="399.76" y="130.49" width="6.02" height="2.5" fill="#4434ce"/>
<rect x="399.76" y="132.97" width="6.02" height="2.5" fill="#4332ca"/>
<rect x="399.76" y="135.46" width="6.02" height="2.5" fill="#4331c7"/>
<rect x="399.76" y="137.94" width="6.02" height="2.5" fill="#422fc1"/>
<rect x="399.76" y="140.42" width="6.02" height="2.5" fill="#412cb9"/>
<rect x="399.76" y="142.91" width="6.02" height="2.5" fill="#3f29b2"/>
<rect x="399.76" y="145.39" width="6.02" height="2.5" fill="#3f28ad"/>
<rect x="399.76" y="147.87" width="6.02" height="2.5" fill="#3e27aa"/>
<rect x="399.76" y="150.35" width="6.02" height="2.5" fill="#3e26a9"/>
<rect x="405.75" y="26.21" width="6.02" height="2.5" fill="#3e26a9"/>
<rect x="405.75" y="28.7" width="6.02" height="2.5" fill="#3e27a9"/>
<rect x="405.75" y="31.18" width="6.02" height="2.5" fill="#3e27ab"/>
<rect x="405.75" y="33.66" width="6.02" height="2.5" fill="#3f28af"/>
<rect x="405.75" y="36.15" width="6.02" height="2.5" fill="#402ab4"/>
<rect x="405.75" y="38.63" width="6.02" height="2.5" fill="#412dbb"/>
<rect x="405.75" y="41.11" width="6.02" height="2.5" fill="#422fc1"/>
<rect x="405.75" y="43.59" width="6.02" height="2.5" fill="#4331c6"/>
<rect x="405.75" y="46.08" width="6.02" height="2.5" fill="#4332c9"/>
<rect x="405.75" y="48.56" width="6.02" height="2.5" fill="#4433cd"/>
<rect x="405.75" y="51.04" width="6.02" height="2.5" fill="#4433cb"/>
<rect x="405.75" y="53.52" width="6.02" height="2.5" fill="#422fc1"/>
<rect x="405.75" y="56.01" width="6.02" height="2.5" fill="#422ebf"/>
<rect x="405.75" y="58.49" width="6.02" height="2.5" fill="#4535d2"/>
<rect x="405.75" y="60.97" width="6.02" height="2.5" fill="#4435d1"/>
<rect x="405.75" y="63.46" width="6.02" height="2.5" fill="#412dbc"/>
<rect x="405.75" y="65.94" width="6.02" height="2.5" fill="#4433cd"/>
<rect x="405.75" y="68.42" width="6.02" height="2.5" fill="#4538d7"/>
<rect x="405.75" y="70.9" width="6.02" height="2.5" fill="#412dbb"/>
<rect x="405.75" y="73.39" width="6.02" height="2.5" fill="#4536d3"/>
<rect x="405.75" y="75.87" width="6.02" height="2.5" fill="#4434cf"/>
<rect x="405.75" y="78.35" width="6.02" height="2.5" fill="#422ebf"/>
<rect x="405.75" y="80.84" width="6.02" height="2.5" fill="#463ee1"/>
<rect x="405.75" y="83.32" width="6.02" height="2.5" fill="#3f28b0"/>
<rect x="405.75" y="85.8" width="6.02" height="2.5" fill="#473fe3"/>
<rect x="405.75" y="88.28" width="6.02" height="2.5" fill="#402ab4"/>
<rect x="405.75" y="90.77" width="6.02" height="2.5" fill="#463ee1"/>
<rect x="405.75" y="93.25" width="6.02" height="2.5" fill="#402ab4"/>
<rect x="405.75" y="95.73" width="6.02" height="2.5" fill="#473fe3"/>
<rect x="405.75" y="98.22" width="6.02" height="2.5" fill="#3f28b0"/>
<rect x="405.75" y="100.7" width="6.02" height="2.5" fill="#463ee1"/>
<rect x="405.75" y="103.18" width="6.02" height="2.5" fill="#422ebf"/>
<rect x="405.75" y="105.66" width="6.02" height="2.5" fill="#4434cf"/>
<rect x="405.75" y="108.15" width="6.02" height="2.5" fill="#4536d3"/>
<rect x="405.75" y="110.63" width="6.02" height="2.5" fill="#412dbb"/>
<rect x="405.75" y="113.11" width="6.02" height="2.5" fill="#4538d7"/>
<rect x="405.75" y="115.6" width="6.02" height="2.5" fill="#4433cd"/>
<rect x="405.75" y="118.08" width="6.02" height="2.5" fill="#412dbc"/>
<rect x="405.75" y="120.56" width="6.02" height="2.5" fill="#4435d1"/>
<rect x="405.75" y="123.04" width="6.02" height="2.5" fill="#4535d2"/>
<rect x="405.75" y="125.53" width="6.02" height="2.5" fill="#422ebf"/>
<rect x="405.75" y="128.01" width="6.02" height="2.5" fill="#422fc1"/>
<rect x="405.75" y="130.49" width="6.02" height="2.5" fill="#4433cb"/>
<rect x="405.75" y="132.97" width="6.02" height="2.5" fill="#4433cd"/>
<rect x="405.75" y="135.46" width="6.02" height="2.5" fill="#4332c9"/>
<rect x="405.75" y="137.94" width="6.02" height="2.5" fill="#4331c6"/>
<rect x="405.75" y="140.42" width="6.02" height="2.5" fill="#422fc1"/>
<rect x="405.75" y="142.91" width="6.02" height="2.5" fill="#412dbb"/>
<rect x="405.75" y="145.39" width="6.02" height="2.5" fill="#402ab4"/>
<rect x="405.75" y="147.87" width="6.02" height="2.5" fill="#3f28af"/>
<rect x="405.75" y="150.35" width="6.02" height="2.5" fill="#3e27ab"/>
<rect x="405.75" y="152.84" width="6.02" height="2.5" fill="#3e27a9"/>
<rect x="405.75" y="155.32" width="6.02" height="2.5" fill="#3e26a9"/>
<rect x="411.75" y="23.73" width="6.02" height="2.5" fill="#3e26a9"/>
<rect x="411.75" y="26.21" width="6.02" height="2.5" fill="#3e27a9"/>
<rect x="411.75" y="28.7" width="6.02" height="2.5" fill="#3e27ac"/>
<rect x="411.75" y="31.18" width="6.02" height="2.5" fill="#3f28b0"/>
<rect x="411.75" y="33.66" width="6.02" height="2.5" fill="#402bb6"/>
<rect x="411.75" y="36.15" width="6.02" height="2.5" fill="#412dbc"/>
<rect x="411.75" y="38.63" width="6.02" height="2.5" fill="#422fc3"/>
<rect x="411.75" y="41.11" width="6.02" height="2.5" fill="#4330c5"/>
<rect x="411.75" y="43.59" width="6.02" height="2.5" fill="#4331c6"/>
<rect x="411.75" y="46.08" width="6.02" height="4.99" fill="#4332ca"/>
<rect x="411.75" y="51.04" width="6.02" height="2.5" fill="#422ebf"/>
<rect x="411.75" y="53.52" width="6.02" height="2.5" fill="#412dbd"/>
<rect x="411.75" y="56.01" width="6.02" height="2.5" fill="#4434cf"/>
<rect x="411.75" y="58.49" width="6.02" height="2.5" fill="#4434ce"/>
<rect x="411.75" y="60.97" width="6.02" height="2.5" fill="#412cb9"/>
<rect x="411.75" y="63.46" width="6.02" height="2.5" fill="#4433cd"/>
<rect x="411.75" y="65.94" width="6.02" height="2.5" fill="#4535d2"/>
<rect x="411.75" y="68.42" width="6.02" height="2.5" fill="#402bb8"/>
<rect x="411.75" y="70.9" width="6.02" height="2.5" fill="#4537d5"/>
<rect x="411.75" y="73.39" width="6.02" height="2.5" fill="#4433cc"/>
<rect x="411.75" y="75.87" width="6.02" height="2.5" fill="#422fc1"/>
<rect x="411.75" y="78.35" width="6.02" height="2.5" fill="#4538d8"/>
<rect x="411.75" y="80.84" width="6.02" height="2.5" fill="#402bb7"/>
<rect x="411.75" y="83.32" width="6.02" height="2.5" fill="#463adc"/>
<rect x="411.75" y="85.8" width="6.02" height="2.5" fill="#402bb7"/>
<rect x="411.75" y="88.28" width="6.02" height="2.5" fill="#463adb"/>
<rect x="411.75" y="90.77" width="6.02" height="2.5" fill="#412cb9"/>
<rect x="411.75" y="93.25" width="6.02" height="2.5" fill="#463adb"/>
<rect x="411.75" y="95.73" width="6.02" height="2.5" fill="#402bb7"/>
<rect x="411.75" y="98.22" width="6.02" height="2.5" fill="#463adc"/>
<rect x="411.75" y="100.7" width="6.02" height="2.5" fill="#402bb7"/>
<rect x="411.75" y="103.18" width="6.02" height="2.5" fill="#4538d8"/>
<rect x="411.75" y="105.66" width="6.02" height="2.5" fill="#422fc1"/>
<rect x="411.75" y="108.15" width="6.02" height="2.5" fill="#4433cc"/>
<rect x="411.75" y="110.63" width="6.02" height="2.5" fill="#4537d5"/>
<rect x="411.75" y="113.11" width="6.02" height="2.5" fill="#402bb8"/>
<rect x="411.75" y="115.6" width="6.02" height="2.5" fill="#4535d2"/>
<rect x="411.75" y="118.08" width="6.02" height="2.5" fill="#4433cd"/>
<rect x="411.75" y="120.56" width="6.02" height="2.5" fill="#412cb9"/>
<rect x="411.75" y="123.04" width="6.02" height="2.5" fill="#4434ce"/>
<rect x="411.75" y="125.53" width="6.02" height="2.5" fill="#4434cf"/>
<rect x="411.75" y="128.01" width="6.02" height="2.5" fill="#412dbd"/>
<rect x="411.75" y="130.49" width="6.02" height="2.5" fill="#422ebf"/>
<rect x="411.75" y="132.97" width="6.02" height="4.99" fill="#4332ca"/>
<rect x="411.75" y="137.94" width="6.02" height="2.5" fill="#4331c6"/>
<rect x="411.75" y="140.42" width="6.02" height="2.5" fill="#4330c5"/>
<rect x="411.75" y="142.91" width="6.02" height="2.5" fill="#422fc3"/>
<rect x="411.75" y="145.39" width="6.02" height="2.5" fill="#412dbc"/>
<rect x="411.75" y="147.87" width="6.02" height="2.5" fill="#402bb6"/>
<rect x="411.75" y="150.35" width="6.02" height="2.5" fill="#3f28b0"/>
<rect x="411.75" y="152.84" width="6.02" height="2.5" fill="#3e27ac"/>
<rect x="411.75" y="155.32" width="6.02" height="2.5" fill="#3e27a9"/>
<rect x="411.75" y="157.8" width="6.02" height="2.5" fill="#3e26a9"/>
<rect x="417.75" y="26.21" width="6.02" height="2.5" fill="#3e26a9"/>
<rect x="417.75" y="28.7" width="6.02" height="2.5" fill="#3e27a9"/>
<rect x="417.75" y="31.18" width="6.02" height="2.5" fill="#3e27ab"/>
<rect x="417.75" y="33.66" width="6.02" height="2.5" fill="#3f28af"/>
<rect x="417.75" y="36.15" width="6.02" height="2.5" fill="#402ab4"/>
<rect x="417.75" y="38.63" width="6.02" height="2.5" fill="#412dbb"/>
<rect x="417.75" y="41.11" width="6.02" height="2.5" fill="#422fc1"/>
<rect x="417.75" y="43.59" width="6.02" height="2.5" fill="#4331c6"/>
<rect x="417.75" y="46.08" width="6.02" height="2.5" fill="#4332c9"/>
<rect x="417.75" y="48.56" width="6.02" height="2.5" fill="#4433cd"/>
<rect x="417.75" y="51.04" width="6.02" height="2.5" fill="#4433cb"/>
<rect x="417.75" y="53.52" width="6.02" height="2.5" fill="#422fc1"/>
<rect x="417.75" y="56.01" width="6.02" height="2.5" fill="#422ebf"/>
<rect x="417.75" y="58.49" width="6.02" height="2.5" fill="#4535d2"/>
<rect x="417.75" y="60.97" width="6.02" height="2.5" fill="#4435d1"/>
<rect x="417.75" y="63.46" width="6.02" height="2.5" fill="#412dbc"/>
<rect x="417.75" y="65.94" width="6.02" height="2.5" fill="#4433cd"/>
<rect x="417.75" y="68.42" width="6.02" height="2.5" fill="#4538d7"/>
<rect x="417.75" y="70.9" width="6.02" height="2.5" fill="#412dbb"/>
<rect x="417.75" y="73.39" width="6.02" height="2.5" fill="#4536d3"/>
<rect x="417.75" y="75.87" width="6.02" height="2.5" fill="#4434cf"/>
<rect x="417.75" y="78.35" width="6.02" height="2.5" fill="#422ebf"/>
<rect x="417.75" y="80.84" width="6.02" height="2.5" fill="#463ee1"/>
<rect x="417.75" y="83.32" width="6.02" height="2.5" fill="#3f28b0"/>
<rect x="417.75" y="85.8" width="6.02" height="2.5" fill="#473fe3"/>
<rect x="417.75" y="88.28" width="6.02" height="2.5" fill="#402ab4"/>
<rect x="417.75" y="90.77" width="6.02" height="2.5" fill="#463ee1"/>
<rect x="417.75" y="93.25" width="6.02" height="2.5" fill="#402ab4"/>
<rect x="417.75" y="95.73" width="6.02" height="2.5" fill="#473fe3"/>
<rect x="417.75" y="98.22" width="6.02" height="2.5" fill="#3f28b0"/>
<rect x="417.75" y="100.7" width="6.02" height="2.5" fill="#463ee1"/>
<rect x="417.75" y="103.18" width="6.02" height="2.5" fill="#422ebf"/>
<rect x="417.75" y="105.66" width="6.02" height="2.5" fill="#4434cf"/>
<rect x="417.75" y="108.15" width="6.02" height="2.5" fill="#4536d3"/>
<rect x="417.75" y="110.63" width="6.02" height="2.5" fill="#412dbb"/>
<rect x="417.75" y="113.11" width="6.02" height="2.5" fill="#4538d7"/>
<rect x="417.75" y="115.6" width="6.02" height="2.5" fill="#4433cd"/>
<rect x="417.75" y="118.08" width="6.02" height="2.5" fill="#412dbc"/>
<rect x="417.75" y="120.56" width="6.02" height="2.5" fill="#4435d1"/>
<rect x="417.75" y="123.04" width="6.02" height="2.5" fill="#4535d2"/>
<rect x="417.75" y="125.53" width="6.02" height="2.5" fill="#422ebf"/>
<rect x="417.75" y="128.01" width="6.02" height="2.5" fill="#422fc1"/>
<rect x="417.75" y="130.49" width="6.02" height="2.5" fill="#4433cb"/>
<rect x="417.75" y="132.97" width="6.02" height="2.5" fill="#4433cd"/>
<rect x="417.75" y="135.46" width="6.02" height="2.5" fill="#4332c9"/>
<rect x="417.75" y="137.94" width="6.02" height="2.5" fill="#4331c6"/>
<rect x="417.75" y="140.42" width="6.02" height="2.5" fill="#422fc1"/>
<rect x="417.75" y="142.91" width="6.02" height="2.5" fill="#412dbb"/>
<rect x="417.75" y="145.39" width="6.02" height="2.5" fill="#402ab4"/>
<rect x="417.75" y="147.87" width="6.02" height="2.5" fill="#3f28af"/>
<rect x="417.75" y="150.35" width="6.02" height="2.5" fill="#3e27ab"/>
<rect x="417.75" y="152.84" width="6.02" height="2.5" fill="#3e27a9"/>
<rect x="417.75" y="155.32" width="6.02" height="2.5" fill="#3e26a9"/>
<rect x="423.75" y="31.18" width="6.02" height="2.5" fill="#3e26a9"/>
<rect x="423.75" y="33.66" width="6.02" height="2.5" fill="#3e27aa"/>
<rect x="423.75" y="36.15" width="6.02" height="2.5" fill="#3f28ad"/>
<rect x="423.75" y="38.63" width="6.02" height="2.5" fill="#3f29b2"/>
<rect x="423.75" y="41.11" width="6.02" height="2.5" fill="#412cb9"/>
<rect x="423.75" y="43.59" width="6.02" height="2.5" fill="#422fc1"/>
<rect x="423.75" y="46.08" width="6.02" height="2.5" fill="#4331c7"/>
<rect x="423.75" y="48.56" width="6.02" height="2.5" fill="#4332ca"/>
<rect x="423.75" y="51.04" width="6.02" height="2.5" fill="#4434ce"/>
<rect x="423.75" y="53.52" width="6.02" height="2.5" fill="#4434cf"/>
<rect x="423.75" y="56.01" width="6.02" height="2.5" fill="#4330c4"/>
<rect x="423.75" y="58.49" width="6.02" height="2.5" fill="#422ec0"/>
<rect x="423.75" y="60.97" width="6.02" height="2.5" fill="#4535d2"/>
<rect x="423.75" y="63.46" width="6.02" height="2.5" fill="#4537d6"/>
<rect x="423.75" y="65.94" width="6.02" height="2.5" fill="#422fc2"/>
<rect x="423.75" y="68.42" width="6.02" height="2.5" fill="#4433cc"/>
<rect x="423.75" y="70.9" width="6.02" height="2.5" fill="#463adb"/>
<rect x="423.75" y="73.39" width="6.02" height="2.5" fill="#4230c3"/>
<rect x="423.75" y="75.87" width="6.02" height="2.5" fill="#4536d3"/>
<rect x="423.75" y="78.35" width="6.02" height="2.5" fill="#4536d4"/>
<rect x="423.75" y="80.84" width="6.02" height="2.5" fill="#412dbc"/>
<rect x="423.75" y="83.32" width="6.02" height="2.5" fill="#4741e5"/>
<rect x="423.75" y="85.8" width="6.02" height="2.5" fill="#3f29b0"/>
<rect x="423.75" y="88.28" width="6.02" height="2.5" fill="#4742e6"/>
<rect x="423.75" y="90.77" width="6.02" height="2.5" fill="#3f29b2"/>
<rect x="423.75" y="93.25" width="6.02" height="2.5" fill="#4742e6"/>
<rect x="423.75" y="95.73" width="6.02" height="2.5" fill="#3f29b0"/>
<rect x="423.75" y="98.22" width="6.02" height="2.5" fill="#4741e5"/>
<rect x="423.75" y="100.7" width="6.02" height="2.5" fill="#412dbc"/>
<rect x="423.75" y="103.18" width="6.02" height="2.5" fill="#4536d4"/>
<rect x="423.75" y="105.66" width="6.02" height="2.5" fill="#4536d3"/>
<rect x="423.75" y="108.15" width="6.02" height="2.5" fill="#4230c3"/>
<rect x="423.75" y="110.63" width="6.02" height="2.5" fill="#463adb"/>
<rect x="423.75" y="113.11" width="6.02" height="2.5" fill="#4433cc"/>
<rect x="423.75" y="115.6" width="6.02" height="2.5" fill="#422fc2"/>
<rect x="423.75" y="118.08" width="6.02" height="2.5" fill="#4537d6"/>
<rect x="423.75" y="120.56" width="6.02" height="2.5" fill="#4535d2"/>
<rect x="423.75" y="123.04" width="6.02" height="2.5" fill="#422ec0"/>
<rect x="423.75" y="125.53" width="6.02" height="2.5" fill="#4330c4"/>
<rect x="423.75" y="128.01" width="6.02" height="2.5" fill="#4434cf"/>
<rect x="423.75" y="130.49" width="6.02" height="2.5" fill="#4434ce"/>
<rect x="423.75" y="132.97" width="6.02" height="2.5" fill="#4332ca"/>
<rect x="423.75" y="135.46" width="6.02" height="2.5" fill="#4331c7"/>
<rect x="423.75" y="137.94" width="6.02" height="2.5" fill="#422fc1"/>
<rect x="423.75" y="140.42" width="6.02" height="2.5" fill="#412cb9"/>
<rect x="423.75" y="142.91" width="6.02" height="2.5" fill="#3f29b2"/>
<rect x="423.75" y="145.39" width="6.02" height="2.5" fill="#3f28ad"/>
<rect x="423.75" y="147.87" width="6.02" height="2.5" fill="#3e27aa"/>
<rect x="423.75" y="150.35" width="6.02" height="2.5" fill="#3e26a9"/>
<rect x="429.74" y="36.15" width="6.02" height="2.5" fill="#3e27a9"/>
<rect x="429.74" y="38.63" width="6.02" height="2.5" fill="#3e27ac"/>
<rect x="429.74" y="41.11" width="6.02" height="2.5" fill="#3f29b0"/>
<rect x="429.74" y="43.59" width="6.02" height="2.5" fill="#402bb7"/>
<rect x="429.74" y="46.08" width="6.02" height="2.5" fill="#422fc0"/>
<rect x="429.74" y="48.56" width="6.02" height="2.5" fill="#4331c8"/>
<rect x="429.74" y="51.04" width="6.02" height="2.5" fill="#4433cc"/>
<rect x="429.74" y="53.52" width="6.02" height="2.5" fill="#4434d0"/>
<rect x="429.74" y="56.01" width="6.02" height="2.5" fill="#4536d3"/>
<rect x="429.74" y="58.49" width="6.02" height="2.5" fill="#4332c9"/>
<rect x="429.74" y="60.97" width="6.02" height="2.5" fill="#422fc1"/>
<rect x="429.74" y="63.46" width="6.02" height="2.5" fill="#4535d2"/>
<rect x="429.74" y="65.94" width="6.02" height="2.5" fill="#4639d9"/>
<rect x="429.74" y="68.42" width="6.02" height="2.5" fill="#4332c9"/>
<rect x="429.74" y="70.9" width="6.02" height="2.5" fill="#4332ca"/>
<rect x="429.74" y="73.39" width="6.02" height="2.5" fill="#463cdf"/>
<rect x="429.74" y="75.87" width="6.02" height="2.5" fill="#4432cb"/>
<rect x="429.74" y="78.35" width="6.02" height="2.5" fill="#4536d4"/>
<rect x="429.74" y="80.84" width="6.02" height="2.5" fill="#463adb"/>
<rect x="429.74" y="83.32" width="6.02" height="2.5" fill="#412cba"/>
<rect x="429.74" y="85.8" width="6.02" height="2.5" fill="#4744e8"/>
<rect x="429.74" y="88.28" width="6.02" height="2.5" fill="#4029b3"/>
<rect x="429.74" y="90.77" width="6.02" height="2.5" fill="#4745e9"/>
<rect x="429.74" y="93.25" width="6.02" height="2.5" fill="#4029b3"/>
<rect x="429.74" y="95.73" width="6.02" height="2.5" fill="#4744e8"/>
<rect x="429.74" y="98.22" width="6.02" height="2.5" fill="#412cba"/>
<rect x="429.74" y="100.7" width="6.02" height="2.5" fill="#463adb"/>
<rect x="429.74" y="103.18" width="6.02" height="2.5" fill="#4536d4"/>
<rect x="429.74" y="105.66" width="6.02" height="2.5" fill="#4432cb"/>
<rect x="429.74" y="108.15" width="6.02" height="2.5" fill="#463cdf"/>
<rect x="429.74" y="110.63" width="6.02" height="2.5" fill="#4332ca"/>
<rect x="429.74" y="113.11" width="6.02" height="2.5" fill="#4332c9"/>
<rect x="429.74" y="115.6" width="6.02" height="2.5" fill="#4639d9"/>
<rect x="429.74" y="118.08" width="6.02" height="2.5" fill="#4535d2"/>
<rect x="429.74" y="120.56" width="6.02" height="2.5" fill="#422fc1"/>
<rect x="429.74" y="123.04" width="6.02" height="2.5" fill="#4332c9"/>
<rect x="429.74" y="125.53" width="6.02" height="2.5" fill="#4536d3"/>
<rect x="429.74" y="128.01" width="6.02" height="2.5" fill="#4434d0"/>
<rect x="429.74" y="130.49" width="6.02" height="2.5" fill="#4433cc"/>
<rect x="429.74" y="132.97" width="6.02" height="2.5" fill="#4331c8"/>
<rect x="429.74" y="135.46" width="6.02" height="2.5" fill="#422fc0"/>
<rect x="429.74" y="137.94" width="6.02" height="2.5" fill="#402bb7"/>
<rect x="429.74" y="140.42" width="6.02" height="2.5" fill="#3f29b0"/>
<rect x="429.74" y="142.91" width="6.02" height="2.5" fill="#3e27ac"/>
<rect x="429.74" y="145.39" width="6.02" height="2.5" fill="#3e27a9"/>
<rect x="435.74" y="38.63" width="6.02" height="2.5" fill="#3e26a9"/>
<rect x="435.74" y="41.11" width="6.02" height="2.5" fill="#3e27aa"/>
<rect x="435.74" y="43.59" width="6.02" height="2.5" fill="#3f28ae"/>
<rect x="435.74" y="46.08" width="6.02" height="2.5" fill="#402ab5"/>
<rect x="435.74" y="48.56" width="6.02" height="2.5" fill="#422ebe"/>
<rect x="435.74" y="51.04" width="6.02" height="2.5" fill="#4331c8"/>
<rect x="435.74" y="53.52" width="6.02" height="2.5" fill="#4434ce"/>
<rect x="435.74" y="56.01" width="6.02" height="2.5" fill="#4535d2"/>
<rect x="435.74" y="58.49" width="6.02" height="2.5" fill="#4537d6"/>
<rect x="435.74" y="60.97" width="6.02" height="2.5" fill="#4434cf"/>
<rect x="435.74" y="63.46" width="6.02" height="2.5" fill="#4230c4"/>
<rect x="435.74" y="65.94" width="6.02" height="2.5" fill="#4435d1"/>
<rect x="435.74" y="68.42" width="6.02" height="2.5" fill="#463adb"/>
<rect x="435.74" y="70.9" width="6.02" height="2.5" fill="#4535d3"/>
<rect x="435.74" y="73.39" width="6.02" height="2.5" fill="#4330c5"/>
<rect x="435.74" y="75.87" width="6.02" height="2.5" fill="#4740e4"/>
<rect x="435.74" y="78.35" width="6.02" height="2.5" fill="#4435d1"/>
<rect x="435.74" y="80.84" width="6.02" height="2.5" fill="#4538d7"/>
<rect x="435.74" y="83.32" width="6.02" height="2.5" fill="#463cdf"/>
<rect x="435.74" y="85.8" width="6.02" height="2.5" fill="#412ebe"/>
<rect x="435.74" y="88.28" width="6.02" height="2.5" fill="#4745e9"/>
<rect x="435.74" y="90.77" width="6.02" height="2.5" fill="#412cb9"/>
<rect x="435.74" y="93.25" width="6.02" height="2.5" fill="#4745e9"/>
<rect x="435.74" y="95.73" width="6.02" height="2.5" fill="#412ebe"/>
<rect x="435.74" y="98.22" width="6.02" height="2.5" fill="#463cdf"/>
<rect x="435.74" y="100.7" width="6.02" height="2.5" fill="#4538d7"/>
<rect x="435.74" y="103.18" width="6.02" height="2.5" fill="#4435d1"/>
<rect x="435.74" y="105.66" width="6.02" height="2.5" fill="#4740e4"/>
<rect x="435.74" y="108.15" width="6.02" height="2.5" fill="#4330c5"/>
<rect x="435.74" y="110.63" width="6.02" height="2.5" fill="#4535d3"/>
<rect x="435.74" y="113.11" width="6.02" height="2.5" fill="#463adb"/>
<rect x="435.74" y="115.6" width="6.02" height="2.5" fill="#4435d1"/>
<rect x="435.74" y="118.08" width="6.02" height="2.5" fill="#4230c4"/>
<rect x="435.74" y="120.56" width="6.02" height="2.5" fill="#4434cf"/>
<rect x="435.74" y="123.04" width="6.02" height="2.5" fill="#4537d6"/>
<rect x="435.74" y="125.53" width="6.02" height="2.5" fill="#4535d2"/>
<rect x="435.74" y="128.01" width="6.02" height="2.5" fill="#4434ce"/>
<rect x="435.74" y="130.49" width="6.02" height="2.5" fill="#4331c8"/>
<rect x="435.74" y="132.97" width="6.02" height="2.5" fill="#422ebe"/>
<rect x="435.74" y="135.46" width="6.02" height="2.5" fill="#402ab5"/>
<rect x="435.74" y="137.94" width="6.02" height="2.5" fill="#3f28ae"/>
<rect x="435.74" y="140.42" width="6.02" height="2.5" fill="#3e27aa"/>
<rect x="435.74" y="142.91" width="6.02" height="2.5" fill="#3e26a9"/>
<rect x="441.74" y="43.59" width="6.02" height="2.5" fill="#3e26a9"/>
<rect x="441.74" y="46.08" width="6.02" height="2.5" fill="#3e27ac"/>
<rect x="441.74" y="48.56" width="6.02" height="2.5" fill="#3f29b2"/>
<rect x="441.74" y="51.04" width="6.02" height="2.5" fill="#412dbb"/>
<rect x="441.74" y="53.52" width="6.02" height="2.5" fill="#4331c7"/>
<rect x="441.74" y="56.01" width="6.02" height="2.5" fill="#4434d0"/>
<rect x="441.74" y="58.49" width="6.02" height="2.5" fill="#4536d5"/>
<rect x="441.74" y="60.97" width="6.02" height="2.5" fill="#4639da"/>
<rect x="441.74" y="63.46" width="6.02" height="2.5" fill="#4537d5"/>
<rect x="441.74" y="65.94" width="6.02" height="2.5" fill="#4332c9"/>
<rect x="441.74" y="68.42" width="6.02" height="2.5" fill="#4435d0"/>
<rect x="441.74" y="70.9" width="6.02" height="2.5" fill="#463adc"/>
<rect x="441.74" y="73.39" width="6.02" height="2.5" fill="#463adb"/>
<rect x="441.74" y="75.87" width="6.02" height="2.5" fill="#422ebf"/>
<rect x="441.74" y="78.35" width="6.02" height="2.5" fill="#4741e5"/>
<rect x="441.74" y="80.84" width="6.02" height="2.5" fill="#4435d1"/>
<rect x="441.74" y="83.32" width="6.02" height="2.5" fill="#4639da"/>
<rect x="441.74" y="85.8" width="6.02" height="2.5" fill="#473fe3"/>
<rect x="441.74" y="88.28" width="6.02" height="2.5" fill="#4331c6"/>
<rect x="441.74" y="90.77" width="6.02" height="2.5" fill="#4744e8"/>
<rect x="441.74" y="93.25" width="6.02" height="2.5" fill="#4331c6"/>
<rect x="441.74" y="95.73" width="6.02" height="2.5" fill="#473fe3"/>
<rect x="441.74" y="98.22" width="6.02" height="2.5" fill="#4639da"/>
<rect x="441.74" y="100.7" width="6.02" height="2.5" fill="#4435d1"/>
<rect x="441.74" y="103.18" width="6.02" height="2.5" fill="#4741e5"/>
<rect x="441.74" y="105.66" width="6.02" height="2.5" fill="#422ebf"/>
<rect x="441.74" y="108.15" width="6.02" height="2.5" fill="#463adb"/>
<rect x="441.74" y="110.63" width="6.02" height="2.5" fill="#463adc"/>
<rect x="441.74" y="113.11" width="6.02" height="2.5" fill="#4435d0"/>
<rect x="441.74" y="115.6" width="6.02" height="2.5" fill="#4332c9"/>
<rect x="441.74" y="118.08" width="6.02" height="2.5" fill="#4537d5"/>
<rect x="441.74" y="120.56" width="6.02" height="2.5" fill="#4639da"/>
<rect x="441.74" y="123.04" width="6.02" height="2.5" fill="#4536d5"/>
<rect x="441.74" y="125.53" width="6.02" height="2.5" fill="#4434d0"/>
<rect x="441.74" y="128.01" width="6.02" height="2.5" fill="#4331c7"/>
<rect x="441.74" y="130.49" width="6.02" height="2.5" fill="#412dbb"/>
<rect x="441.74" y="132.97" width="6.02" height="2.5" fill="#3f29b2"/>
<rect x="441.74" y="135.46" width="6.02" height="2.5" fill="#3e27ac"/>
<rect x="441.74" y="137.94" width="6.02" height="2.5" fill="#3e26a9"/>
<rect x="447.73" y="46.08" width="6.02" height="2.5" fill="#3e26a9"/>
<rect x="447.73" y="48.56" width="6.02" height="2.5" fill="#3e27aa"/>
<rect x="447.73" y="51.04" width="6.02" height="2.5" fill="#3f28af"/>
<rect x="447.73" y="53.52" width="6.02" height="2.5" fill="#402bb8"/>
<rect x="447.73" y="56.01" width="6.02" height="2.5" fill="#4330c5"/>
<rect x="447.73" y="58.49" width="6.02" height="2.5" fill="#4535d2"/>
<rect x="447.73" y="60.97" width="6.02" height="2.5" fill="#4538d7"/>
<rect x="447.73" y="63.46" width="6.02" height="2.5" fill="#463bdd"/>
<rect x="447.73" y="65.94" width="6.02" height="2.5" fill="#463adc"/>
<rect x="447.73" y="68.42" width="6.02" height="2.5" fill="#4434cf"/>
<rect x="447.73" y="70.9" width="6.02" height="2.5" fill="#4435d1"/>
<rect x="447.73" y="73.39" width="6.02" height="2.5" fill="#463de0"/>
<rect x="447.73" y="75.87" width="6.02" height="2.5" fill="#4740e4"/>
<rect x="447.73" y="78.35" width="6.02" height="2.5" fill="#4331c8"/>
<rect x="447.73" y="80.84" width="6.02" height="2.5" fill="#4742e6"/>
<rect x="447.73" y="83.32" width="6.02" height="2.5" fill="#4435d1"/>
<rect x="447.73" y="85.8" width="6.02" height="2.5" fill="#463de0"/>
<rect x="447.73" y="88.28" width="6.02" height="2.5" fill="#473fe2"/>
<rect x="447.73" y="90.77" width="6.02" height="2.5" fill="#4537d6"/>
<rect x="447.73" y="93.25" width="6.02" height="2.5" fill="#473fe2"/>
<rect x="447.73" y="95.73" width="6.02" height="2.5" fill="#463de0"/>
<rect x="447.73" y="98.22" width="6.02" height="2.5" fill="#4435d1"/>
<rect x="447.73" y="100.7" width="6.02" height="2.5" fill="#4742e6"/>
<rect x="447.73" y="103.18" width="6.02" height="2.5" fill="#4331c8"/>
<rect x="447.73" y="105.66" width="6.02" height="2.5" fill="#4740e4"/>
<rect x="447.73" y="108.15" width="6.02" height="2.5" fill="#463de0"/>
<rect x="447.73" y="110.63" width="6.02" height="2.5" fill="#4435d1"/>
<rect x="447.73" y="113.11" width="6.02" height="2.5" fill="#4434cf"/>
<rect x="447.73" y="115.6" width="6.02" height="2.5" fill="#463adc"/>
<rect x="447.73" y="118.08" width="6.02" height="2.5" fill="#463bdd"/>
<rect x="447.73" y="120.56" width="6.02" height="2.5" fill="#4538d7"/>
<rect x="447.73" y="123.04" width="6.02" height="2.5" fill="#4535d2"/>
<rect x="447.73" y="125.53" width="6.02" height="2.5" fill="#4330c5"/>
<rect x="447.73" y="128.01" width="6.02" height="2.5" fill="#402bb8"/>
<rect x="447.73" y="130.49" width="6.02" height="2.5" fill="#3f28af"/>
<rect x="447.73" y="132.97" width="6.02" height="2.5" fill="#3e27aa"/>
<rect x="447.73" y="135.46" width="6.02" height="2.5" fill="#3e26a9"/>
<rect x="453.73" y="51.04" width="6.02" height="2.5" fill="#3e26a9"/>
<rect x="453.73" y="53.52" width="6.02" height="2.5" fill="#3e27ac"/>
<rect x="453.73" y="56.01" width="6.02" height="2.5" fill="#402ab4"/>
<rect x="453.73" y="58.49" width="6.02" height="2.5" fill="#422fc2"/>
<rect x="453.73" y="60.97" width="6.02" height="2.5" fill="#4535d2"/>
<rect x="453.73" y="63.46" width="6.02" height="2.5" fill="#463adb"/>
<rect x="453.73" y="65.94" width="6.02" height="2.5" fill="#463de0"/>
<rect x="453.73" y="68.42" width="6.02" height="2.5" fill="#473ee2"/>
<rect x="453.73" y="70.9" width="6.02" height="2.5" fill="#463adc"/>
<rect x="453.73" y="73.39" width="6.02" height="2.5" fill="#4741e4"/>
<rect x="453.73" y="75.87" width="6.02" height="2.5" fill="#4743e7"/>
<rect x="453.73" y="78.35" width="6.02" height="2.5" fill="#4744e8"/>
<rect x="453.73" y="80.84" width="6.02" height="2.5" fill="#4538d8"/>
<rect x="453.73" y="83.32" width="6.02" height="2.5" fill="#4849ed"/>
<rect x="453.73" y="85.8" width="6.02" height="2.5" fill="#4535d2"/>
<rect x="453.73" y="88.28" width="6.02" height="2.5" fill="#4744e8"/>
<rect x="453.73" y="90.77" width="6.02" height="2.5" fill="#463cdf"/>
<rect x="453.73" y="93.25" width="6.02" height="2.5" fill="#4744e8"/>
<rect x="453.73" y="95.73" width="6.02" height="2.5" fill="#4535d2"/>
<rect x="453.73" y="98.22" width="6.02" height="2.5" fill="#4849ed"/>
<rect x="453.73" y="100.7" width="6.02" height="2.5" fill="#4538d8"/>
<rect x="453.73" y="103.18" width="6.02" height="2.5" fill="#4744e8"/>
<rect x="453.73" y="105.66" width="6.02" height="2.5" fill="#4743e7"/>
<rect x="453.73" y="108.15" width="6.02" height="2.5" fill="#4741e4"/>
<rect x="453.73" y="110.63" width="6.02" height="2.5" fill="#463adc"/>
<rect x="453.73" y="113.11" width="6.02" height="2.5" fill="#473ee2"/>
<rect x="453.73" y="115.6" width="6.02" height="2.5" fill="#463de0"/>
<rect x="453.73" y="118.08" width="6.02" height="2.5" fill="#463adb"/>
<rect x="453.73" y="120.56" width="6.02" height="2.5" fill="#4535d2"/>
<rect x="453.73" y="123.04" width="6.02" height="2.5" fill="#422fc2"/>
<rect x="453.73" y="125.53" width="6.02" height="2.5" fill="#402ab4"/>
<rect x="453.73" y="128.01" width="6.02" height="2.5" fill="#3e27ac"/>
<rect x="453.73" y="130.49" width="6.02" height="2.5" fill="#3e26a9"/>
<rect x="459.73" y="56.01" width="6.02" height="2.5" fill="#3e27a9"/>
<rect x="459.73" y="58.49" width="6.02" height="2.5" fill="#3f28af"/>
<rect x="459.73" y="60.97" width="6.02" height="2.5" fill="#412dbc"/>
<rect x="459.73" y="63.46" width="6.02" height="2.5" fill="#4435d0"/>
<rect x="459.73" y="65.94" width="6.02" height="2.5" fill="#463bde"/>
<rect x="459.73" y="68.42" width="6.02" height="2.5" fill="#4740e3"/>
<rect x="459.73" y="70.9" width="6.02" height="2.5" fill="#4743e7"/>
<rect x="459.73" y="73.39" width="6.02" height="2.5" fill="#4741e5"/>
<rect x="459.73" y="75.87" width="6.02" height="2.5" fill="#484cef"/>
<rect x="459.73" y="78.35" width="6.02" height="2.5" fill="#4848ec"/>
<rect x="459.73" y="80.84" width="6.02" height="2.5" fill="#484bef"/>
<rect x="459.73" y="83.32" width="6.02" height="2.5" fill="#463cdf"/>
<rect x="459.73" y="85.8" width="6.02" height="2.5" fill="#4852f4"/>
<rect x="459.73" y="88.28" width="6.02" height="2.5" fill="#4538d7"/>
<rect x="459.73" y="90.77" width="6.02" height="2.5" fill="#484ef1"/>
<rect x="459.73" y="93.25" width="6.02" height="2.5" fill="#4538d7"/>
<rect x="459.73" y="95.73" width="6.02" height="2.5" fill="#4852f4"/>
<rect x="459.73" y="98.22" width="6.02" height="2.5" fill="#463cdf"/>
<rect x="459.73" y="100.7" width="6.02" height="2.5" fill="#484bef"/>
<rect x="459.73" y="103.18" width="6.02" height="2.5" fill="#4848ec"/>
<rect x="459.73" y="105.66" width="6.02" height="2.5" fill="#484cef"/>
<rect x="459.73" y="108.15" width="6.02" height="2.5" fill="#4741e5"/>
<rect x="459.73" y="110.63" width="6.02" height="2.5" fill="#4743e7"/>
<rect x="459.73" y="113.11" width="6.02" height="2.5" fill="#4740e3"/>
<rect x="459.73" y="115.6" width="6.02" height="2.5" fill="#463bde"/>
<rect x="459.73" y="118.08" width="6.02" height="2.5" fill="#4435d0"/>
<rect x="459.73" y="120.56" width="6.02" height="2.5" fill="#412dbc"/>
<rect x="459.73" y="123.04" width="6.02" height="2.5" fill="#3f28af"/>
<rect x="459.73" y="125.53" width="6.02" height="2.5" fill="#3e27a9"/>
<rect x="465.72" y="60.97" width="6.02" height="2.5" fill="#3e27ab"/>
<rect x="465.72" y="63.46" width="6.02" height="2.5" fill="#402bb6"/>
<rect x="465.72" y="65.94" width="6.02" height="2.5" fill="#4433cb"/>
<rect x="465.72" y="68.42" width="6.02" height="2.5" fill="#463de1"/>
<rect x="465.72" y="70.9" width="6.02" height="2.5" fill="#4744e8"/>
<rect x="465.72" y="73.39" width="6.02" height="2.5" fill="#4848ec"/>
<rect x="465.72" y="75.87" width="6.02" height="2.5" fill="#4849ed"/>
<rect x="465.72" y="78.35" width="6.02" height="2.5" fill="#4757f8"/>
<rect x="465.72" y="80.84" width="6.02" height="2.5" fill="#484ef1"/>
<rect x="465.72" y="83.32" width="6.02" height="2.5" fill="#4852f4"/>
<rect x="465.72" y="85.8" width="6.02" height="2.5" fill="#463bdd"/>
<rect x="465.72" y="88.28" width="6.02" height="2.5" fill="#475af9"/>
<rect x="465.72" y="90.77" width="6.02" height="2.5" fill="#463bdd"/>
<rect x="465.72" y="93.25" width="6.02" height="2.5" fill="#475af9"/>
<rect x="465.72" y="95.73" width="6.02" height="2.5" fill="#463bdd"/>
<rect x="465.72" y="98.22" width="6.02" height="2.5" fill="#4852f4"/>
<rect x="465.72" y="100.7" width="6.02" height="2.5" fill="#484ef1"/>
<rect x="465.72" y="103.18" width="6.02" height="2.5" fill="#4757f8"/>
<rect x="465.72" y="105.66" width="6.02" height="2.5" fill="#4849ed"/>
<rect x="465.72" y="108.15" width="6.02" height="2.5" fill="#4848ec"/>
<rect x="465.72" y="110.63" width="6.02" height="2.5" fill="#4744e8"/>
<rect x="465.72" y="113.11" width="6.02" height="2.5" fill="#463de1"/>
<rect x="465.72" y="115.6" width="6.02" height="2.5" fill="#4433cb"/>
<rect x="465.72" y="118.08" width="6.02" height="2.5" fill="#402bb6"/>
<rect x="465.72" y="120.56" width="6.02" height="2.5" fill="#3e27ab"/>
<rect x="471.72" y="63.46" width="6.02" height="2.5" fill="#3e26a9"/>
<rect x="471.72" y="65.94" width="6.02" height="2.5" fill="#3f28af"/>
<rect x="471.72" y="68.42" width="6.02" height="2.5" fill="#422fc2"/>
<rect x="471.72" y="70.9" width="6.02" height="2.5" fill="#463de0"/>
<rect x="471.72" y="73.39" width="6.02" height="2.5" fill="#4849ed"/>
<rect x="471.72" y="75.87" width="6.02" height="2.5" fill="#4851f3"/>
<rect x="471.72" y="78.35" width="6.02" height="2.5" fill="#4853f5"/>
<rect x="471.72" y="80.84" width="6.02" height="2.5" fill="#4368fe"/>
<rect x="471.72" y="83.32" width="6.02" height="2.5" fill="#4850f3"/>
<rect x="471.72" y="85.8" width="6.02" height="2.5" fill="#4759f8"/>
<rect x="471.72" y="88.28" width="6.02" height="2.5" fill="#4740e4"/>
<rect x="471.72" y="90.77" width="6.02" height="2.5" fill="#4562fc"/>
<rect x="471.72" y="93.25" width="6.02" height="2.5" fill="#4740e4"/>
<rect x="471.72" y="95.73" width="6.02" height="2.5" fill="#4759f8"/>
<rect x="471.72" y="98.22" width="6.02" height="2.5" fill="#4850f3"/>
<rect x="471.72" y="100.7" width="6.02" height="2.5" fill="#4368fe"/>
<rect x="471.72" y="103.18" width="6.02" height="2.5" fill="#4853f5"/>
<rect x="471.72" y="105.66" width="6.02" height="2.5" fill="#4851f3"/>
<rect x="471.72" y="108.15" width="6.02" height="2.5" fill="#4849ed"/>
<rect x="471.72" y="110.63" width="6.02" height="2.5" fill="#463de0"/>
<rect x="471.72" y="113.11" width="6.02" height="2.5" fill="#422fc2"/>
<rect x="471.72" y="115.6" width="6.02" height="2.5" fill="#3f28af"/>
<rect x="471.72" y="118.08" width="6.02" height="2.5" fill="#3e26a9"/>
<rect x="477.72" y="68.42" width="6.02" height="2.5" fill="#3e27a9"/>
<rect x="477.72" y="70.9" width="6.02" height="2.5" fill="#402bb6"/>
<rect x="477.72" y="73.39" width="6.02" height="2.5" fill="#463adb"/>
<rect x="477.72" y="75.87" width="6.02" height="2.5" fill="#4850f2"/>
<rect x="477.72" y="78.35" width="6.02" height="2.5" fill="#475af9"/>
<rect x="477.72" y="80.84" width="6.02" height="2.5" fill="#465ffb"/>
<rect x="477.72" y="83.32" width="6.02" height="2.5" fill="#2d89f5"/>
<rect x="477.72" y="85.8" width="6.02" height="4.99" fill="#416bfe"/>
<rect x="477.72" y="90.77" width="6.02" height="2.5" fill="#4851f3"/>
<rect x="477.72" y="93.25" width="6.02" height="4.99" fill="#416bfe"/>
<rect x="477.72" y="98.22" width="6.02" height="2.5" fill="#2d89f5"/>
<rect x="477.72" y="100.7" width="6.02" height="2.5" fill="#465ffb"/>
<rect x="477.72" y="103.18" width="6.02" height="2.5" fill="#475af9"/>
<rect x="477.72" y="105.66" width="6.02" height="2.5" fill="#4850f2"/>
<rect x="477.72" y="108.15" width="6.02" height="2.5" fill="#463adb"/>
<rect x="477.72" y="110.63" width="6.02" height="2.5" fill="#402bb6"/>
<rect x="477.72" y="113.11" width="6.02" height="2.5" fill="#3e27a9"/>
<rect x="483.71" y="73.39" width="6.02" height="2.5" fill="#3e27aa"/>
<rect x="483.71" y="75.87" width="6.02" height="2.5" fill="#4331c8"/>
<rect x="483.71" y="78.35" width="6.02" height="2.5" fill="#4854f5"/>
<rect x="483.71" y="80.84" width="6.02" height="2.5" fill="#426afe"/>
<rect x="483.71" y="83.32" width="6.02" height="2.5" fill="#3a74ff"/>
<rect x="483.71" y="85.8" width="6.02" height="2.5" fill="#16afd9"/>
<rect x="483.71" y="88.28" width="6.02" height="2.5" fill="#2e83f9"/>
<rect x="483.71" y="90.77" width="6.02" height="2.5" fill="#307ffb"/>
<rect x="483.71" y="93.25" width="6.02" height="2.5" fill="#2e83f9"/>
<rect x="483.71" y="95.73" width="6.02" height="2.5" fill="#16afd9"/>
<rect x="483.71" y="98.22" width="6.02" height="2.5" fill="#3a74ff"/>
<rect x="483.71" y="100.7" width="6.02" height="2.5" fill="#426afe"/>
<rect x="483.71" y="103.18" width="6.02" height="2.5" fill="#4854f5"/>
<rect x="483.71" y="105.66" width="6.02" height="2.5" fill="#4331c8"/>
<rect x="483.71" y="108.15" width="6.02" height="2.5" fill="#3e27aa"/>
<rect x="489.71" y="80.84" width="6.02" height="2.5" fill="#402bb7"/>
<rect x="489.71" y="83.32" width="6.02" height="2.5" fill="#463cde"/>
<rect x="489.71" y="85.8" width="6.02" height="2.5" fill="#4367fd"/>
<rect x="489.71" y="88.28" width="6.02" height="7.47" fill="#0bb4d2"/>
<rect x="489.71" y="95.73" width="6.02" height="2.5" fill="#4367fd"/>
<rect x="489.71" y="98.22" width="6.02" height="2.5" fill="#463cde"/>
<rect x="489.71" y="100.7" width="6.02" height="2.5" fill="#402bb7"/>
<rect x="495.71" y="83.32" width="6.02" height="2.5" fill="#4536d3"/>
<rect x="495.71" y="85.8" width="6.02" height="4.99" fill="#4367fd"/>
<rect x="495.71" y="90.77" width="6.02" height="2.5" fill="#f9fb15"/>
<rect x="495.71" y="93.25" width="6.02" height="4.99" fill="#4367fd"/>
<rect x="495.71" y="98.22" width="6.02" height="2.5" fill="#4536d3"/>
<rect x="501.7" y="88.28" width="6.02" height="7.47" fill="#81cc59"/>
</g></g>
<rect x="321.8" y="13.8" width="185.9" height="158.9" fill="none" stroke="#1a1a1a" stroke-width="0.7" stroke-opacity="0.85"/>
<line x1="348.79" y1="172.7" x2="348.79" y2="170.7" stroke="#262626" stroke-width="0.5" stroke-opacity="0.6"/>
<line x1="348.79" y1="13.8" x2="348.79" y2="15.8" stroke="#262626" stroke-width="0.5" stroke-opacity="0.6"/>
<text x="348.79" y="185.2" text-anchor="middle">5</text>
<line x1="378.77" y1="172.7" x2="378.77" y2="170.7" stroke="#262626" stroke-width="0.5" stroke-opacity="0.6"/>
<line x1="378.77" y1="13.8" x2="378.77" y2="15.8" stroke="#262626" stroke-width="0.5" stroke-opacity="0.6"/>
<text x="378.77" y="185.2" text-anchor="middle">10</text>
<line x1="408.75" y1="172.7" x2="408.75" y2="170.7" stroke="#262626" stroke-width="0.5" stroke-opacity="0.6"/>
<line x1="408.75" y1="13.8" x2="408.75" y2="15.8" stroke="#262626" stroke-width="0.5" stroke-opacity="0.6"/>
<text x="408.75" y="185.2" text-anchor="middle">15</text>
<line x1="438.74" y1="172.7" x2="438.74" y2="170.7" stroke="#262626" stroke-width="0.5" stroke-opacity="0.6"/>
<line x1="438.74" y1="13.8" x2="438.74" y2="15.8" stroke="#262626" stroke-width="0.5" stroke-opacity="0.6"/>
<text x="438.74" y="185.2" text-anchor="middle">20</text>
<line x1="468.72" y1="172.7" x2="468.72" y2="170.7" stroke="#262626" stroke-width="0.5" stroke-opacity="0.6"/>
<line x1="468.72" y1="13.8" x2="468.72" y2="15.8" stroke="#262626" stroke-width="0.5" stroke-opacity="0.6"/>
<text x="468.72" y="185.2" text-anchor="middle">25</text>
<line x1="498.7" y1="172.7" x2="498.7" y2="170.7" stroke="#262626" stroke-width="0.5" stroke-opacity="0.6"/>
<line x1="498.7" y1="13.8" x2="498.7" y2="15.8" stroke="#262626" stroke-width="0.5" stroke-opacity="0.6"/>
<text x="498.7" y="185.2" text-anchor="middle">30</text>
<text x="318.8" y="17.65" text-anchor="end">-32</text>
<text x="318.8" y="55" text-anchor="end">-16</text>
<text x="318.8" y="94.9" text-anchor="end">0</text>
<text x="318.8" y="134.7" text-anchor="end">16</text>
<text x="318.8" y="174.4" text-anchor="end">32</text>
<line x1="321.8" y1="52.28" x2="323.8" y2="52.28" stroke="#262626" stroke-width="0.5" stroke-opacity="0.6"/>
<line x1="507.7" y1="52.28" x2="505.7" y2="52.28" stroke="#262626" stroke-width="0.5" stroke-opacity="0.6"/>
<line x1="321.8" y1="92.01" x2="323.8" y2="92.01" stroke="#262626" stroke-width="0.5" stroke-opacity="0.6"/>
<line x1="507.7" y1="92.01" x2="505.7" y2="92.01" stroke="#262626" stroke-width="0.5" stroke-opacity="0.6"/>
<line x1="321.8" y1="131.73" x2="323.8" y2="131.73" stroke="#262626" stroke-width="0.5" stroke-opacity="0.6"/>
<line x1="507.7" y1="131.73" x2="505.7" y2="131.73" stroke="#262626" stroke-width="0.5" stroke-opacity="0.6"/>
<text x="383.55" y="196.5" font-weight="bold" font-size="10" textLength="62.4" lengthAdjust="spacingAndGlyphs">Time (Kicks)</text>
<text transform="translate(300.9,92.9) rotate(-90)" x="-26.9" font-weight="bold" font-size="10" textLength="53.8" lengthAdjust="spacingAndGlyphs">Momentum</text>
<defs><linearGradient id="gb" x1="0" y1="0" x2="0" y2="1"><stop offset="0.0000" stop-color="#f9fb15"/><stop offset="0.0625" stop-color="#f5e327"/><stop offset="0.1250" stop-color="#feca33"/><stop offset="0.1875" stop-color="#f1ba37"/><stop offset="0.2500" stop-color="#c8c129"/><stop offset="0.3125" stop-color="#94ca4a"/><stop offset="0.3750" stop-color="#5ccc76"/><stop offset="0.4375" stop-color="#34c79c"/><stop offset="0.5000" stop-color="#12beb9"/><stop offset="0.5625" stop-color="#0cb3d3"/><stop offset="0.6250" stop-color="#21a3e3"/><stop offset="0.6875" stop-color="#2c90f0"/><stop offset="0.7500" stop-color="#347afd"/><stop offset="0.8125" stop-color="#4562fc"/><stop offset="0.8750" stop-color="#484cef"/><stop offset="0.9375" stop-color="#4536d5"/><stop offset="1.0000" stop-color="#3e26a8"/></linearGradient></defs>
<rect x="513" y="13.6" width="10" height="159.3" fill="url(#gb)" stroke="#262626" stroke-width="0.5" stroke-opacity="0.7"/>
<line x1="523" y1="172.9" x2="521.5" y2="172.9" stroke="#262626" stroke-width="0.5" stroke-opacity="0.7"/>
<text x="526" y="175.5" font-family="'Liberation Sans', sans-serif" font-size="8.4" style="stroke:none">0</text>
<line x1="523" y1="141.04" x2="521.5" y2="141.04" stroke="#262626" stroke-width="0.5" stroke-opacity="0.7"/>
<text x="526" y="143.64" font-family="'Liberation Sans', sans-serif" font-size="8.4" style="stroke:none">0.1</text>
<line x1="523" y1="109.18" x2="521.5" y2="109.18" stroke="#262626" stroke-width="0.5" stroke-opacity="0.7"/>
<text x="526" y="111.78" font-family="'Liberation Sans', sans-serif" font-size="8.4" style="stroke:none">0.2</text>
<line x1="523" y1="77.32" x2="521.5" y2="77.32" stroke="#262626" stroke-width="0.5" stroke-opacity="0.7"/>
<text x="526" y="79.92" font-family="'Liberation Sans', sans-serif" font-size="8.4" style="stroke:none">0.3</text>
<line x1="523" y1="45.46" x2="521.5" y2="45.46" stroke="#262626" stroke-width="0.5" stroke-opacity="0.7"/>
<text x="526" y="48.06" font-family="'Liberation Sans', sans-serif" font-size="8.4" style="stroke:none">0.4</text>
<line x1="523" y1="13.6" x2="521.5" y2="13.6" stroke="#262626" stroke-width="0.5" stroke-opacity="0.7"/>
<text x="526" y="16.2" font-family="'Liberation Sans', sans-serif" font-size="8.4" style="stroke:none">0.5</text>
<text x="423.4" y="217.8" text-anchor="middle" font-weight="bold" font-size="10">(b)</text>
<rect x="320" y="234" width="189.8" height="155.7" fill="#3e26a8"/>
<defs><clipPath id="cpd"><rect x="320" y="234" width="189.8" height="155.7"/></clipPath><filter id="bld" x="-5%" y="-5%" width="110%" height="110%"><feGaussianBlur stdDeviation="0.35"/></filter></defs>
<g clip-path="url(#cpd)"><g filter="url(#bld)">
<rect x="320" y="306.98" width="6.14" height="7.32" fill="#f9fa15"/>
<rect x="326.12" y="302.12" width="6.14" height="2.45" fill="#484aee"/>
<rect x="326.12" y="304.55" width="6.14" height="2.45" fill="#05b6ce"/>
<rect x="326.12" y="306.98" width="6.14" height="2.45" fill="#ddbd29"/>
<rect x="326.12" y="309.42" width="6.14" height="2.45" fill="#426afe"/>
<rect x="326.12" y="311.85" width="6.14" height="2.45" fill="#ddbd29"/>
<rect x="326.12" y="314.28" width="6.14" height="2.45" fill="#05b6ce"/>
<rect x="326.12" y="316.72" width="6.14" height="2.45" fill="#484aee"/>
<rect x="332.25" y="297.25" width="6.14" height="2.45" fill="#3f29b0"/>
<rect x="332.25" y="299.69" width="6.14" height="2.45" fill="#475cfa"/>
<rect x="332.25" y="302.12" width="6.14" height="2.45" fill="#72cd63"/>
<rect x="332.25" y="304.55" width="6.14" height="2.45" fill="#a6c83c"/>
<rect x="332.25" y="306.98" width="6.14" height="2.45" fill="#3f6eff"/>
<rect x="332.25" y="309.42" width="6.14" height="2.45" fill="#4537d5"/>
<rect x="332.25" y="311.85" width="6.14" height="2.45" fill="#3f6eff"/>
<rect x="332.25" y="314.28" width="6.14" height="2.45" fill="#a6c83c"/>
<rect x="332.25" y="316.72" width="6.14" height="2.45" fill="#72cd63"/>
<rect x="332.25" y="319.15" width="6.14" height="2.45" fill="#475cfa"/>
<rect x="332.25" y="321.58" width="6.14" height="2.45" fill="#3f29b0"/>
<rect x="338.37" y="294.82" width="6.14" height="2.45" fill="#422ebe"/>
<rect x="338.37" y="297.25" width="6.14" height="2.45" fill="#4467fd"/>
<rect x="338.37" y="299.69" width="6.14" height="2.45" fill="#35c799"/>
<rect x="338.37" y="302.12" width="6.14" height="2.45" fill="#2bc3a8"/>
<rect x="338.37" y="304.55" width="6.14" height="2.45" fill="#4758f8"/>
<rect x="338.37" y="306.98" width="6.14" height="2.45" fill="#4536d5"/>
<rect x="338.37" y="309.42" width="6.14" height="2.45" fill="#4639da"/>
<rect x="338.37" y="311.85" width="6.14" height="2.45" fill="#4536d5"/>
<rect x="338.37" y="314.28" width="6.14" height="2.45" fill="#4758f8"/>
<rect x="338.37" y="316.72" width="6.14" height="2.45" fill="#2bc3a8"/>
<rect x="338.37" y="319.15" width="6.14" height="2.45" fill="#35c799"/>
<rect x="338.37" y="321.58" width="6.14" height="2.45" fill="#4467fd"/>
<rect x="338.37" y="324.01" width="6.14" height="2.45" fill="#422ebe"/>
<rect x="344.49" y="289.95" width="6.14" height="2.45" fill="#4029b3"/>
<rect x="344.49" y="292.39" width="6.14" height="2.45" fill="#4745e9"/>
<rect x="344.49" y="294.82" width="6.14" height="2.45" fill="#23a0e5"/>
<rect x="344.49" y="297.25" width="6.14" height="2.45" fill="#34c79b"/>
<rect x="344.49" y="299.69" width="6.14" height="2.45" fill="#2798ea"/>
<rect x="344.49" y="302.12" width="6.14" height="2.45" fill="#4849ed"/>
<rect x="344.49" y="304.55" width="6.14" height="2.45" fill="#463adb"/>
<rect x="344.49" y="306.98" width="6.14" height="2.45" fill="#4538d8"/>
<rect x="344.49" y="309.42" width="6.14" height="2.45" fill="#412cb9"/>
<rect x="344.49" y="311.85" width="6.14" height="2.45" fill="#4538d8"/>
<rect x="344.49" y="314.28" width="6.14" height="2.45" fill="#463adb"/>
<rect x="344.49" y="316.72" width="6.14" height="2.45" fill="#4849ed"/>
<rect x="344.49" y="319.15" width="6.14" height="2.45" fill="#2798ea"/>
<rect x="344.49" y="321.58" width="6.14" height="2.45" fill="#34c79b"/>
<rect x="344.49" y="324.01" width="6.14" height="2.45" fill="#23a0e5"/>
<rect x="344.49" y="326.45" width="6.14" height="2.45" fill="#4745e9"/>
<rect x="344.49" y="328.88" width="6.14" height="2.45" fill="#4029b3"/>
<rect x="350.61" y="287.52" width="6.14" height="2.45" fill="#4331c6"/>
<rect x="350.61" y="289.95" width="6.14" height="2.45" fill="#465efb"/>
<rect x="350.61" y="292.39" width="6.14" height="2.45" fill="#0db3d3"/>
<rect x="350.61" y="294.82" width="6.14" height="2.45" fill="#18bfb6"/>
<rect x="350.61" y="297.25" width="6.14" height="2.45" fill="#2f80fb"/>
<rect x="350.61" y="299.69" width="6.14" height="2.45" fill="#4741e5"/>
<rect x="350.61" y="302.12" width="6.14" height="2.45" fill="#4847ec"/>
<rect x="350.61" y="304.55" width="6.14" height="2.45" fill="#4434d0"/>
<rect x="350.61" y="306.98" width="6.14" height="2.45" fill="#412cb8"/>
<rect x="350.61" y="309.42" width="6.14" height="2.45" fill="#4434cf"/>
<rect x="350.61" y="311.85" width="6.14" height="2.45" fill="#412cb8"/>
<rect x="350.61" y="314.28" width="6.14" height="2.45" fill="#4434d0"/>
<rect x="350.61" y="316.72" width="6.14" height="2.45" fill="#4847ec"/>
<rect x="350.61" y="319.15" width="6.14" height="2.45" fill="#4741e5"/>
<rect x="350.61" y="321.58" width="6.14" height="2.45" fill="#2f80fb"/>
<rect x="350.61" y="324.01" width="6.14" height="2.45" fill="#18bfb6"/>
<rect x="350.61" y="326.45" width="6.14" height="2.45" fill="#0db3d3"/>
<rect x="350.61" y="328.88" width="6.14" height="2.45" fill="#465efb"/>
<rect x="350.61" y="331.31" width="6.14" height="2.45" fill="#4331c6"/>
<rect x="356.74" y="282.66" width="6.14" height="2.45" fill="#402bb7"/>
<rect x="356.74" y="285.09" width="6.14" height="2.45" fill="#4743e7"/>
<rect x="356.74" y="287.52" width="6.14" height="2.45" fill="#2d89f5"/>
<rect x="356.74" y="289.95" width="6.14" height="2.45" fill="#02bbc2"/>
<rect x="356.74" y="292.39" width="6.14" height="2.45" fill="#12b1d7"/>
<rect x="356.74" y="294.82" width="6.14" height="2.45" fill="#465ffb"/>
<rect x="356.74" y="297.25" width="6.14" height="2.45" fill="#4639da"/>
<rect x="356.74" y="299.69" width="6.14" height="2.45" fill="#463ee1"/>
<rect x="356.74" y="302.12" width="6.14" height="2.45" fill="#4331c6"/>
<rect x="356.74" y="304.55" width="6.14" height="2.45" fill="#412cba"/>
<rect x="356.74" y="306.98" width="6.14" height="2.45" fill="#4433ce"/>
<rect x="356.74" y="309.42" width="6.14" height="2.45" fill="#3f29b0"/>
<rect x="356.74" y="311.85" width="6.14" height="2.45" fill="#4433ce"/>
<rect x="356.74" y="314.28" width="6.14" height="2.45" fill="#412cba"/>
<rect x="356.74" y="316.72" width="6.14" height="2.45" fill="#4331c6"/>
<rect x="356.74" y="319.15" width="6.14" height="2.45" fill="#463ee1"/>
<rect x="356.74" y="321.58" width="6.14" height="2.45" fill="#4639da"/>
<rect x="356.74" y="324.01" width="6.14" height="2.45" fill="#465ffb"/>
<rect x="356.74" y="326.45" width="6.14" height="2.45" fill="#12b1d7"/>
<rect x="356.74" y="328.88" width="6.14" height="2.45" fill="#02bbc2"/>
<rect x="356.74" y="331.31" width="6.14" height="2.45" fill="#2d89f5"/>
<rect x="356.74" y="333.75" width="6.14" height="2.45" fill="#4743e7"/>
<rect x="356.74" y="336.18" width="6.14" height="2.45" fill="#402bb7"/>
<rect x="362.86" y="277.79" width="6.14" height="2.45" fill="#3f28af"/>
<rect x="362.86" y="280.22" width="6.14" height="2.45" fill="#4434ce"/>
<rect x="362.86" y="282.66" width="6.14" height="2.45" fill="#465ffb"/>
<rect x="362.86" y="285.09" width="6.14" height="2.45" fill="#21a3e3"/>
<rect x="362.86" y="287.52" width="6.14" height="2.45" fill="#03bbc2"/>
<rect x="362.86" y="289.95" width="6.14" height="2.45" fill="#2994ed"/>
<rect x="362.86" y="292.39" width="6.14" height="2.45" fill="#4747eb"/>
<rect x="362.86" y="294.82" width="6.14" height="2.45" fill="#4537d6"/>
<rect x="362.86" y="297.25" width="6.14" height="2.45" fill="#4740e4"/>
<rect x="362.86" y="299.69" width="6.14" height="2.45" fill="#412dbc"/>
<rect x="362.86" y="302.12" width="6.14" height="2.45" fill="#4230c3"/>
<rect x="362.86" y="304.55" width="6.14" height="2.45" fill="#4432cb"/>
<rect x="362.86" y="306.98" width="6.14" height="2.45" fill="#3f28b0"/>
<rect x="362.86" y="309.42" width="6.14" height="2.45" fill="#4332c9"/>
<rect x="362.86" y="311.85" width="6.14" height="2.45" fill="#3f28b0"/>
<rect x="362.86" y="314.28" width="6.14" height="2.45" fill="#4432cb"/>
<rect x="362.86" y="316.72" width="6.14" height="2.45" fill="#4230c3"/>
<rect x="362.86" y="319.15" width="6.14" height="2.45" fill="#412dbc"/>
<rect x="362.86" y="321.58" width="6.14" height="2.45" fill="#4740e4"/>
<rect x="362.86" y="324.01" width="6.14" height="2.45" fill="#4537d6"/>
<rect x="362.86" y="326.45" width="6.14" height="2.45" fill="#4747eb"/>
<rect x="362.86" y="328.88" width="6.14" height="2.45" fill="#2994ed"/>
<rect x="362.86" y="331.31" width="6.14" height="2.45" fill="#03bbc2"/>
<rect x="362.86" y="333.75" width="6.14" height="2.45" fill="#21a3e3"/>
<rect x="362.86" y="336.18" width="6.14" height="2.45" fill="#465ffb"/>
<rect x="362.86" y="338.61" width="6.14" height="2.45" fill="#4434ce"/>
<rect x="362.86" y="341.04" width="6.14" height="2.45" fill="#3f28af"/>
<rect x="368.98" y="272.93" width="6.14" height="2.45" fill="#3e27a9"/>
<rect x="368.98" y="275.36" width="6.14" height="2.45" fill="#422ebf"/>
<rect x="368.98" y="277.79" width="6.14" height="2.45" fill="#4745e9"/>
<rect x="368.98" y="280.22" width="6.14" height="2.45" fill="#317dfc"/>
<rect x="368.98" y="282.66" width="6.14" height="2.45" fill="#19acdc"/>
<rect x="368.98" y="285.09" width="6.14" height="2.45" fill="#1babde"/>
<rect x="368.98" y="287.52" width="6.14" height="2.45" fill="#3b73ff"/>
<rect x="368.98" y="289.95" width="6.14" height="2.45" fill="#4538d7"/>
<rect x="368.98" y="292.39" width="6.14" height="2.45" fill="#4536d3"/>
<rect x="368.98" y="294.82" width="6.14" height="2.45" fill="#4740e4"/>
<rect x="368.98" y="297.25" width="6.14" height="2.45" fill="#4029b3"/>
<rect x="368.98" y="299.69" width="6.14" height="2.45" fill="#4331c6"/>
<rect x="368.98" y="302.12" width="6.14" height="2.45" fill="#4330c4"/>
<rect x="368.98" y="304.55" width="6.14" height="2.45" fill="#3f29b1"/>
<rect x="368.98" y="306.98" width="6.14" height="2.45" fill="#4331c8"/>
<rect x="368.98" y="309.42" width="6.14" height="2.45" fill="#3e27ac"/>
<rect x="368.98" y="311.85" width="6.14" height="2.45" fill="#4331c8"/>
<rect x="368.98" y="314.28" width="6.14" height="2.45" fill="#3f29b1"/>
<rect x="368.98" y="316.72" width="6.14" height="2.45" fill="#4330c4"/>
<rect x="368.98" y="319.15" width="6.14" height="2.45" fill="#4331c6"/>
<rect x="368.98" y="321.58" width="6.14" height="2.45" fill="#4029b3"/>
<rect x="368.98" y="324.01" width="6.14" height="2.45" fill="#4740e4"/>
<rect x="368.98" y="326.45" width="6.14" height="2.45" fill="#4536d3"/>
<rect x="368.98" y="328.88" width="6.14" height="2.45" fill="#4538d7"/>
<rect x="368.98" y="331.31" width="6.14" height="2.45" fill="#3b73ff"/>
<rect x="368.98" y="333.75" width="6.14" height="2.45" fill="#1babde"/>
<rect x="368.98" y="336.18" width="6.14" height="2.45" fill="#19acdc"/>
<rect x="368.98" y="338.61" width="6.14" height="2.45" fill="#317dfc"/>
<rect x="368.98" y="341.04" width="6.14" height="2.45" fill="#4745e9"/>
<rect x="368.98" y="343.48" width="6.14" height="2.45" fill="#422ebf"/>
<rect x="368.98" y="345.91" width="6.14" height="2.45" fill="#3e27a9"/>
<rect x="375.1" y="270.49" width="6.14" height="2.45" fill="#402bb7"/>
<rect x="375.1" y="272.93" width="6.14" height="2.45" fill="#4639d9"/>
<rect x="375.1" y="275.36" width="6.14" height="2.45" fill="#4660fb"/>
<rect x="375.1" y="277.79" width="6.14" height="2.45" fill="#2994ed"/>
<rect x="375.1" y="280.22" width="6.14" height="2.45" fill="#1da9e0"/>
<rect x="375.1" y="282.66" width="6.14" height="2.45" fill="#2d8ef1"/>
<rect x="375.1" y="285.09" width="6.14" height="2.45" fill="#4851f3"/>
<rect x="375.1" y="287.52" width="6.14" height="2.45" fill="#4331c7"/>
<rect x="375.1" y="289.95" width="6.14" height="2.45" fill="#4434ce"/>
<rect x="375.1" y="292.39" width="6.14" height="2.45" fill="#463ee1"/>
<rect x="375.1" y="294.82" width="6.14" height="2.45" fill="#3f29b1"/>
<rect x="375.1" y="297.25" width="6.14" height="2.45" fill="#4434d0"/>
<rect x="375.1" y="299.69" width="6.14" height="2.45" fill="#422ebf"/>
<rect x="375.1" y="302.12" width="6.14" height="2.45" fill="#4029b3"/>
<rect x="375.1" y="304.55" width="6.14" height="2.45" fill="#4331c7"/>
<rect x="375.1" y="306.98" width="6.14" height="2.45" fill="#3e27ac"/>
<rect x="375.1" y="309.42" width="6.14" height="2.45" fill="#4330c5"/>
<rect x="375.1" y="311.85" width="6.14" height="2.45" fill="#3e27ac"/>
<rect x="375.1" y="314.28" width="6.14" height="2.45" fill="#4331c7"/>
<rect x="375.1" y="316.72" width="6.14" height="2.45" fill="#4029b3"/>
<rect x="375.1" y="319.15" width="6.14" height="2.45" fill="#422ebf"/>
<rect x="375.1" y="321.58" width="6.14" height="2.45" fill="#4434d0"/>
<rect x="375.1" y="324.01" width="6.14" height="2.45" fill="#3f29b1"/>
<rect x="375.1" y="326.45" width="6.14" height="2.45" fill="#463ee1"/>
<rect x="375.1" y="328.88" width="6.14" height="2.45" fill="#4434ce"/>
<rect x="375.1" y="331.31" width="6.14" height="2.45" fill="#4331c7"/>
<rect x="375.1" y="333.75" width="6.14" height="2.45" fill="#4851f3"/>
<rect x="375.1" y="336.18" width="6.14" height="2.45" fill="#2d8ef1"/>
<rect x="375.1" y="338.61" width="6.14" height="2.45" fill="#1da9e0"/>
<rect x="375.1" y="341.04" width="6.14" height="2.45" fill="#2994ed"/>
<rect x="375.1" y="343.48" width="6.14" height="2.45" fill="#4660fb"/>
<rect x="375.1" y="345.91" width="6.14" height="2.45" fill="#4639d9"/>
<rect x="375.1" y="348.34" width="6.14" height="2.45" fill="#402bb7"/>
<rect x="381.23" y="265.63" width="6.14" height="2.45" fill="#3f29b2"/>
<rect x="381.23" y="268.06" width="6.14" height="2.45" fill="#4331c8"/>
<rect x="381.23" y="270.49" width="6.14" height="2.45" fill="#484cef"/>
<rect x="381.23" y="272.93" width="6.14" height="2.45" fill="#3479fd"/>
<rect x="381.23" y="275.36" width="6.14" height="2.45" fill="#269ae9"/>
<rect x="381.23" y="277.79" width="6.14" height="2.45" fill="#2896ec"/>
<rect x="381.23" y="280.22" width="6.14" height="2.45" fill="#426bfe"/>
<rect x="381.23" y="282.66" width="6.14" height="2.45" fill="#463adc"/>
<rect x="381.23" y="285.09" width="6.14" height="2.45" fill="#412cba"/>
<rect x="381.23" y="287.52" width="6.14" height="2.45" fill="#4331c8"/>
<rect x="381.23" y="289.95" width="6.14" height="2.45" fill="#4538d8"/>
<rect x="381.23" y="292.39" width="6.14" height="2.45" fill="#402ab6"/>
<rect x="381.23" y="294.82" width="6.14" height="2.45" fill="#463adb"/>
<rect x="381.23" y="297.25" width="6.14" height="4.89" fill="#412cba"/>
<rect x="381.23" y="302.12" width="6.14" height="2.45" fill="#4230c4"/>
<rect x="381.23" y="304.55" width="6.14" height="2.45" fill="#3e27ac"/>
<rect x="381.23" y="306.98" width="6.14" height="2.45" fill="#4230c4"/>
<rect x="381.23" y="309.42" width="6.14" height="2.45" fill="#3e27aa"/>
<rect x="381.23" y="311.85" width="6.14" height="2.45" fill="#4230c4"/>
<rect x="381.23" y="314.28" width="6.14" height="2.45" fill="#3e27ac"/>
<rect x="381.23" y="316.72" width="6.14" height="2.45" fill="#4230c4"/>
<rect x="381.23" y="319.15" width="6.14" height="4.89" fill="#412cba"/>
<rect x="381.23" y="324.01" width="6.14" height="2.45" fill="#463adb"/>
<rect x="381.23" y="326.45" width="6.14" height="2.45" fill="#402ab6"/>
<rect x="381.23" y="328.88" width="6.14" height="2.45" fill="#4538d8"/>
<rect x="381.23" y="331.31" width="6.14" height="2.45" fill="#4331c8"/>
<rect x="381.23" y="333.75" width="6.14" height="2.45" fill="#412cba"/>
<rect x="381.23" y="336.18" width="6.14" height="2.45" fill="#463adc"/>
<rect x="381.23" y="338.61" width="6.14" height="2.45" fill="#426bfe"/>
<rect x="381.23" y="341.04" width="6.14" height="2.45" fill="#2896ec"/>
<rect x="381.23" y="343.48" width="6.14" height="2.45" fill="#269ae9"/>
<rect x="381.23" y="345.91" width="6.14" height="2.45" fill="#3479fd"/>
<rect x="381.23" y="348.34" width="6.14" height="2.45" fill="#484cef"/>
<rect x="381.23" y="350.77" width="6.14" height="2.45" fill="#4331c8"/>
<rect x="381.23" y="353.21" width="6.14" height="2.45" fill="#3f29b2"/>
<rect x="387.35" y="260.76" width="6.14" height="2.45" fill="#3f28b0"/>
<rect x="387.35" y="263.19" width="6.14" height="2.45" fill="#422fc1"/>
<rect x="387.35" y="265.63" width="6.14" height="2.45" fill="#4740e3"/>
<rect x="387.35" y="268.06" width="6.14" height="2.45" fill="#4564fd"/>
<rect x="387.35" y="270.49" width="6.14" height="2.45" fill="#2d8df2"/>
<rect x="387.35" y="272.93" width="6.14" height="2.45" fill="#269ae9"/>
<rect x="387.35" y="275.36" width="6.14" height="2.45" fill="#2e83f9"/>
<rect x="387.35" y="277.79" width="6.14" height="2.45" fill="#4851f4"/>
<rect x="387.35" y="280.22" width="6.14" height="2.45" fill="#4331c6"/>
<rect x="387.35" y="282.66" width="6.14" height="2.45" fill="#402ab6"/>
<rect x="387.35" y="285.09" width="6.14" height="2.45" fill="#422fc3"/>
<rect x="387.35" y="287.52" width="6.14" height="2.45" fill="#4331c7"/>
<rect x="387.35" y="289.95" width="6.14" height="2.45" fill="#412dbd"/>
<rect x="387.35" y="292.39" width="6.14" height="2.45" fill="#4536d4"/>
<rect x="387.35" y="294.82" width="6.14" height="2.45" fill="#402ab4"/>
<rect x="387.35" y="297.25" width="6.14" height="2.45" fill="#412dbc"/>
<rect x="387.35" y="299.69" width="6.14" height="2.45" fill="#422ec0"/>
<rect x="387.35" y="302.12" width="6.14" height="2.45" fill="#3f28ad"/>
<rect x="387.35" y="304.55" width="6.14" height="2.45" fill="#4230c3"/>
<rect x="387.35" y="306.98" width="6.14" height="2.45" fill="#3e27aa"/>
<rect x="387.35" y="309.42" width="6.14" height="2.45" fill="#422fc1"/>
<rect x="387.35" y="311.85" width="6.14" height="2.45" fill="#3e27aa"/>
<rect x="387.35" y="314.28" width="6.14" height="2.45" fill="#4230c3"/>
<rect x="387.35" y="316.72" width="6.14" height="2.45" fill="#3f28ad"/>
<rect x="387.35" y="319.15" width="6.14" height="2.45" fill="#422ec0"/>
<rect x="387.35" y="321.58" width="6.14" height="2.45" fill="#412dbc"/>
<rect x="387.35" y="324.01" width="6.14" height="2.45" fill="#402ab4"/>
<rect x="387.35" y="326.45" width="6.14" height="2.45" fill="#4536d4"/>
<rect x="387.35" y="328.88" width="6.14" height="2.45" fill="#412dbd"/>
<rect x="387.35" y="331.31" width="6.14" height="2.45" fill="#4331c7"/>
<rect x="387.35" y="333.75" width="6.14" height="2.45" fill="#422fc3"/>
<rect x="387.35" y="336.18" width="6.14" height="2.45" fill="#402ab6"/>
<rect x="387.35" y="338.61" width="6.14" height="2.45" fill="#4331c6"/>
<rect x="387.35" y="341.04" width="6.14" height="2.45" fill="#4851f4"/>
<rect x="387.35" y="343.48" width="6.14" height="2.45" fill="#2e83f9"/>
<rect x="387.35" y="345.91" width="6.14" height="2.45" fill="#269ae9"/>
<rect x="387.35" y="348.34" width="6.14" height="2.45" fill="#2d8df2"/>
<rect x="387.35" y="350.77" width="6.14" height="2.45" fill="#4564fd"/>
<rect x="387.35" y="353.21" width="6.14" height="2.45" fill="#4740e3"/>
<rect x="387.35" y="355.64" width="6.14" height="2.45" fill="#422fc1"/>
<rect x="387.35" y="358.07" width="6.14" height="2.45" fill="#3f28b0"/>
<rect x="393.47" y="255.9" width="6.14" height="2.45" fill="#3e27ac"/>
<rect x="393.47" y="258.33" width="6.14" height="2.45" fill="#412cb9"/>
<rect x="393.47" y="260.76" width="6.14" height="2.45" fill="#4536d3"/>
<rect x="393.47" y="263.19" width="6.14" height="2.45" fill="#484ff2"/>
<rect x="393.47" y="265.63" width="6.14" height="2.45" fill="#3b73ff"/>
<rect x="393.47" y="268.06" width="6.14" height="2.45" fill="#2d8df2"/>
<rect x="393.47" y="270.49" width="6.14" height="2.45" fill="#2d8cf3"/>
<rect x="393.47" y="272.93" width="6.14" height="2.45" fill="#406dfe"/>
<rect x="393.47" y="275.36" width="6.14" height="2.45" fill="#4744e8"/>
<rect x="393.47" y="277.79" width="6.14" height="2.45" fill="#422ebf"/>
<rect x="393.47" y="280.22" width="6.14" height="2.45" fill="#402ab4"/>
<rect x="393.47" y="282.66" width="6.14" height="2.45" fill="#412ebd"/>
<rect x="393.47" y="285.09" width="6.14" height="2.45" fill="#412dbc"/>
<rect x="393.47" y="287.52" width="6.14" height="2.45" fill="#4330c5"/>
<rect x="393.47" y="289.95" width="6.14" height="2.45" fill="#4332ca"/>
<rect x="393.47" y="292.39" width="6.14" height="2.45" fill="#3f28af"/>
<rect x="393.47" y="294.82" width="6.14" height="2.45" fill="#422ebf"/>
<rect x="393.47" y="297.25" width="6.14" height="2.45" fill="#412dbc"/>
<rect x="393.47" y="299.69" width="6.14" height="2.45" fill="#3f28af"/>
<rect x="393.47" y="302.12" width="6.14" height="2.45" fill="#4230c3"/>
<rect x="393.47" y="304.55" width="6.14" height="2.45" fill="#3e27aa"/>
<rect x="393.47" y="306.98" width="6.14" height="2.45" fill="#422fc0"/>
<rect x="393.47" y="309.42" width="6.14" height="2.45" fill="#3e27aa"/>
<rect x="393.47" y="311.85" width="6.14" height="2.45" fill="#422fc0"/>
<rect x="393.47" y="314.28" width="6.14" height="2.45" fill="#3e27aa"/>
<rect x="393.47" y="316.72" width="6.14" height="2.45" fill="#4230c3"/>
<rect x="393.47" y="319.15" width="6.14" height="2.45" fill="#3f28af"/>
<rect x="393.47" y="321.58" width="6.14" height="2.45" fill="#412dbc"/>
<rect x="393.47" y="324.01" width="6.14" height="2.45" fill="#422ebf"/>
<rect x="393.47" y="326.45" width="6.14" height="2.45" fill="#3f28af"/>
<rect x="393.47" y="328.88" width="6.14" height="2.45" fill="#4332ca"/>
<rect x="393.47" y="331.31" width="6.14" height="2.45" fill="#4330c5"/>
<rect x="393.47" y="333.75" width="6.14" height="2.45" fill="#412dbc"/>
<rect x="393.47" y="336.18" width="6.14" height="2.45" fill="#412ebd"/>
<rect x="393.47" y="338.61" width="6.14" height="2.45" fill="#402ab4"/>
<rect x="393.47" y="341.04" width="6.14" height="2.45" fill="#422ebf"/>
<rect x="393.47" y="343.48" width="6.14" height="2.45" fill="#4744e8"/>
<rect x="393.47" y="345.91" width="6.14" height="2.45" fill="#406dfe"/>
<rect x="393.47" y="348.34" width="6.14" height="2.45" fill="#2d8cf3"/>
<rect x="393.47" y="350.77" width="6.14" height="2.45" fill="#2d8df2"/>
<rect x="393.47" y="353.21" width="6.14" height="2.45" fill="#3b73ff"/>
<rect x="393.47" y="355.64" width="6.14" height="2.45" fill="#484ff2"/>
<rect x="393.47" y="358.07" width="6.14" height="2.45" fill="#4536d3"/>
<rect x="393.47" y="360.51" width="6.14" height="2.45" fill="#412cb9"/>
<rect x="393.47" y="362.94" width="6.14" height="2.45" fill="#3e27ac"/>
<rect x="399.59" y="251.03" width="6.14" height="2.45" fill="#3e26a9"/>
<rect x="399.59" y="253.46" width="6.14" height="2.45" fill="#3f29b2"/>
<rect x="399.59" y="255.9" width="6.14" height="2.45" fill="#422fc2"/>
<rect x="399.59" y="258.33" width="6.14" height="2.45" fill="#463ee1"/>
<rect x="399.59" y="260.76" width="6.14" height="2.45" fill="#475bfa"/>
<rect x="399.59" y="263.19" width="6.14" height="2.45" fill="#327bfc"/>
<rect x="399.59" y="265.63" width="6.14" height="2.45" fill="#2d88f6"/>
<rect x="399.59" y="268.06" width="6.14" height="2.45" fill="#327cfc"/>
<rect x="399.59" y="270.49" width="6.14" height="2.45" fill="#4759f9"/>
<rect x="399.59" y="272.93" width="6.14" height="2.45" fill="#4639d9"/>
<rect x="399.59" y="275.36" width="6.14" height="2.45" fill="#412cb9"/>
<rect x="399.59" y="277.79" width="6.14" height="2.45" fill="#3f29b2"/>
<rect x="399.59" y="280.22" width="6.14" height="2.45" fill="#412cb8"/>
<rect x="399.59" y="282.66" width="6.14" height="2.45" fill="#402bb8"/>
<rect x="399.59" y="285.09" width="6.14" height="2.45" fill="#4434ce"/>
<rect x="399.59" y="287.52" width="6.14" height="2.45" fill="#4331c7"/>
<rect x="399.59" y="289.95" width="6.14" height="2.45" fill="#3e27ac"/>
<rect x="399.59" y="292.39" width="6.14" height="2.45" fill="#4230c4"/>
<rect x="399.59" y="294.82" width="6.14" height="2.45" fill="#412cb8"/>
<rect x="399.59" y="297.25" width="6.14" height="2.45" fill="#402ab4"/>
<rect x="399.59" y="299.69" width="6.14" height="2.45" fill="#422fc0"/>
<rect x="399.59" y="302.12" width="6.14" height="2.45" fill="#3e27aa"/>
<rect x="399.59" y="304.55" width="6.14" height="2.45" fill="#422ec0"/>
<rect x="399.59" y="306.98" width="6.14" height="2.45" fill="#3e27aa"/>
<rect x="399.59" y="309.42" width="6.14" height="2.45" fill="#412ebe"/>
<rect x="399.59" y="311.85" width="6.14" height="2.45" fill="#3e27aa"/>
<rect x="399.59" y="314.28" width="6.14" height="2.45" fill="#422ec0"/>
<rect x="399.59" y="316.72" width="6.14" height="2.45" fill="#3e27aa"/>
<rect x="399.59" y="319.15" width="6.14" height="2.45" fill="#422fc0"/>
<rect x="399.59" y="321.58" width="6.14" height="2.45" fill="#402ab4"/>
<rect x="399.59" y="324.01" width="6.14" height="2.45" fill="#412cb8"/>
<rect x="399.59" y="326.45" width="6.14" height="2.45" fill="#4230c4"/>
<rect x="399.59" y="328.88" width="6.14" height="2.45" fill="#3e27ac"/>
<rect x="399.59" y="331.31" width="6.14" height="2.45" fill="#4331c7"/>
<rect x="399.59" y="333.75" width="6.14" height="2.45" fill="#4434ce"/>
<rect x="399.59" y="336.18" width="6.14" height="2.45" fill="#402bb8"/>
<rect x="399.59" y="338.61" width="6.14" height="2.45" fill="#412cb8"/>
<rect x="399.59" y="341.04" width="6.14" height="2.45" fill="#3f29b2"/>
<rect x="399.59" y="343.48" width="6.14" height="2.45" fill="#412cb9"/>
<rect x="399.59" y="345.91" width="6.14" height="2.45" fill="#4639d9"/>
<rect x="399.59" y="348.34" width="6.14" height="2.45" fill="#4759f9"/>
<rect x="399.59" y="350.77" width="6.14" height="2.45" fill="#327cfc"/>
<rect x="399.59" y="353.21" width="6.14" height="2.45" fill="#2d88f6"/>
<rect x="399.59" y="355.64" width="6.14" height="2.45" fill="#327bfc"/>
<rect x="399.59" y="358.07" width="6.14" height="2.45" fill="#475bfa"/>
<rect x="399.59" y="360.51" width="6.14" height="2.45" fill="#463ee1"/>
<rect x="399.59" y="362.94" width="6.14" height="2.45" fill="#422fc2"/>
<rect x="399.59" y="365.37" width="6.14" height="2.45" fill="#3f29b2"/>
<rect x="399.59" y="367.8" width="6.14" height="2.45" fill="#3e26a9"/>
<rect x="405.72" y="248.6" width="6.14" height="2.45" fill="#3f28ae"/>
<rect x="405.72" y="251.03" width="6.14" height="2.45" fill="#412cba"/>
<rect x="405.72" y="253.46" width="6.14" height="2.45" fill="#4535d2"/>
<rect x="405.72" y="255.9" width="6.14" height="2.45" fill="#4849ed"/>
<rect x="405.72" y="258.33" width="6.14" height="2.45" fill="#4563fd"/>
<rect x="405.72" y="260.76" width="6.14" height="2.45" fill="#347afd"/>
<rect x="405.72" y="263.19" width="6.14" height="2.45" fill="#307efb"/>
<rect x="405.72" y="265.63" width="6.14" height="2.45" fill="#416bfe"/>
<rect x="405.72" y="268.06" width="6.14" height="2.45" fill="#484aee"/>
<rect x="405.72" y="270.49" width="6.14" height="2.45" fill="#4332c9"/>
<rect x="405.72" y="272.93" width="6.14" height="2.45" fill="#402ab4"/>
<rect x="405.72" y="275.36" width="6.14" height="2.45" fill="#3f29b0"/>
<rect x="405.72" y="277.79" width="6.14" height="2.45" fill="#402ab5"/>
<rect x="405.72" y="280.22" width="6.14" height="2.45" fill="#402bb8"/>
<rect x="405.72" y="282.66" width="6.14" height="2.45" fill="#4537d6"/>
<rect x="405.72" y="285.09" width="6.14" height="2.45" fill="#422fc2"/>
<rect x="405.72" y="287.52" width="6.14" height="2.45" fill="#3f28af"/>
<rect x="405.72" y="289.95" width="6.14" height="2.45" fill="#4433cb"/>
<rect x="405.72" y="292.39" width="6.14" height="2.45" fill="#402ab5"/>
<rect x="405.72" y="294.82" width="6.14" height="2.45" fill="#402bb7"/>
<rect x="405.72" y="297.25" width="6.14" height="2.45" fill="#412dbd"/>
<rect x="405.72" y="299.69" width="6.14" height="2.45" fill="#3e27ab"/>
<rect x="405.72" y="302.12" width="6.14" height="2.45" fill="#422ec0"/>
<rect x="405.72" y="304.55" width="6.14" height="2.45" fill="#3e27aa"/>
<rect x="405.72" y="306.98" width="6.14" height="2.45" fill="#412dbd"/>
<rect x="405.72" y="309.42" width="6.14" height="2.45" fill="#3e27aa"/>
<rect x="405.72" y="311.85" width="6.14" height="2.45" fill="#412dbd"/>
<rect x="405.72" y="314.28" width="6.14" height="2.45" fill="#3e27aa"/>
<rect x="405.72" y="316.72" width="6.14" height="2.45" fill="#422ec0"/>
<rect x="405.72" y="319.15" width="6.14" height="2.45" fill="#3e27ab"/>
<rect x="405.72" y="321.58" width="6.14" height="2.45" fill="#412dbd"/>
<rect x="405.72" y="324.01" width="6.14" height="2.45" fill="#402bb7"/>
<rect x="405.72" y="326.45" width="6.14" height="2.45" fill="#402ab5"/>
<rect x="405.72" y="328.88" width="6.14" height="2.45" fill="#4433cb"/>
<rect x="405.72" y="331.31" width="6.14" height="2.45" fill="#3f28af"/>
<rect x="405.72" y="333.75" width="6.14" height="2.45" fill="#422fc2"/>
<rect x="405.72" y="336.18" width="6.14" height="2.45" fill="#4537d6"/>
<rect x="405.72" y="338.61" width="6.14" height="2.45" fill="#402bb8"/>
<rect x="405.72" y="341.04" width="6.14" height="2.45" fill="#402ab5"/>
<rect x="405.72" y="343.48" width="6.14" height="2.45" fill="#3f29b0"/>
<rect x="405.72" y="345.91" width="6.14" height="2.45" fill="#402ab4"/>
<rect x="405.72" y="348.34" width="6.14" height="2.45" fill="#4332c9"/>
<rect x="405.72" y="350.77" width="6.14" height="2.45" fill="#484aee"/>
<rect x="405.72" y="353.21" width="6.14" height="2.45" fill="#416bfe"/>
<rect x="405.72" y="355.64" width="6.14" height="2.45" fill="#307efb"/>
<rect x="405.72" y="358.07" width="6.14" height="2.45" fill="#347afd"/>
<rect x="405.72" y="360.51" width="6.14" height="2.45" fill="#4563fd"/>
<rect x="405.72" y="362.94" width="6.14" height="2.45" fill="#4849ed"/>
<rect x="405.72" y="365.37" width="6.14" height="2.45" fill="#4535d2"/>
<rect x="405.72" y="367.8" width="6.14" height="2.45" fill="#412cba"/>
<rect x="405.72" y="370.24" width="6.14" height="2.45" fill="#3f28ae"/>
<rect x="411.84" y="241.3" width="6.14" height="2.45" fill="#3e26a9"/>
<rect x="411.84" y="243.73" width="6.14" height="2.45" fill="#3e27aa"/>
<rect x="411.84" y="246.16" width="6.14" height="2.45" fill="#3f28ae"/>
<rect x="411.84" y="248.6" width="6.14" height="2.45" fill="#402bb7"/>
<rect x="411.84" y="251.03" width="6.14" height="2.45" fill="#4331c8"/>
<rect x="411.84" y="253.46" width="6.14" height="2.45" fill="#473fe3"/>
<rect x="411.84" y="255.9" width="6.14" height="2.45" fill="#475af9"/>
<rect x="411.84" y="258.33" width="6.14" height="2.45" fill="#3a74ff"/>
<rect x="411.84" y="260.76" width="6.14" height="2.45" fill="#3777fe"/>
<rect x="411.84" y="263.19" width="6.14" height="2.45" fill="#4854f5"/>
<rect x="411.84" y="265.63" width="6.14" height="2.45" fill="#4331c7"/>
<rect x="411.84" y="268.06" width="6.14" height="2.45" fill="#3f28ad"/>
<rect x="411.84" y="270.49" width="6.14" height="2.45" fill="#463de0"/>
<rect x="411.84" y="272.93" width="6.14" height="2.45" fill="#4743e7"/>
<rect x="411.84" y="275.36" width="6.14" height="2.45" fill="#402bb7"/>
<rect x="411.84" y="277.79" width="6.14" height="2.45" fill="#402ab4"/>
<rect x="411.84" y="280.22" width="6.14" height="2.45" fill="#4639d9"/>
<rect x="411.84" y="282.66" width="6.14" height="2.45" fill="#412dbc"/>
<rect x="411.84" y="285.09" width="6.14" height="2.45" fill="#3f28af"/>
<rect x="411.84" y="287.52" width="6.14" height="2.45" fill="#4433cd"/>
<rect x="411.84" y="289.95" width="6.14" height="2.45" fill="#3f28af"/>
<rect x="411.84" y="292.39" width="6.14" height="2.45" fill="#412cb9"/>
<rect x="411.84" y="294.82" width="6.14" height="2.45" fill="#412dbc"/>
<rect x="411.84" y="297.25" width="6.14" height="2.45" fill="#3e27ab"/>
<rect x="411.84" y="299.69" width="6.14" height="2.45" fill="#422ebf"/>
<rect x="411.84" y="302.12" width="6.14" height="2.45" fill="#3e27aa"/>
<rect x="411.84" y="304.55" width="6.14" height="2.45" fill="#412dbc"/>
<rect x="411.84" y="306.98" width="6.14" height="2.45" fill="#3e27aa"/>
<rect x="411.84" y="309.42" width="6.14" height="2.45" fill="#412dbb"/>
<rect x="411.84" y="311.85" width="6.14" height="2.45" fill="#3e27aa"/>
<rect x="411.84" y="314.28" width="6.14" height="2.45" fill="#412dbc"/>
<rect x="411.84" y="316.72" width="6.14" height="2.45" fill="#3e27aa"/>
<rect x="411.84" y="319.15" width="6.14" height="2.45" fill="#422ebf"/>
<rect x="411.84" y="321.58" width="6.14" height="2.45" fill="#3e27ab"/>
<rect x="411.84" y="324.01" width="6.14" height="2.45" fill="#412dbc"/>
<rect x="411.84" y="326.45" width="6.14" height="2.45" fill="#412cb9"/>
<rect x="411.84" y="328.88" width="6.14" height="2.45" fill="#3f28af"/>
<rect x="411.84" y="331.31" width="6.14" height="2.45" fill="#4433cd"/>
<rect x="411.84" y="333.75" width="6.14" height="2.45" fill="#3f28af"/>
<rect x="411.84" y="336.18" width="6.14" height="2.45" fill="#412dbc"/>
<rect x="411.84" y="338.61" width="6.14" height="2.45" fill="#4639d9"/>
<rect x="411.84" y="341.04" width="6.14" height="2.45" fill="#402ab4"/>
<rect x="411.84" y="343.48" width="6.14" height="2.45" fill="#402bb7"/>
<rect x="411.84" y="345.91" width="6.14" height="2.45" fill="#4743e7"/>
<rect x="411.84" y="348.34" width="6.14" height="2.45" fill="#463de0"/>
<rect x="411.84" y="350.77" width="6.14" height="2.45" fill="#3f28ad"/>
<rect x="411.84" y="353.21" width="6.14" height="2.45" fill="#4331c7"/>
<rect x="411.84" y="355.64" width="6.14" height="2.45" fill="#4854f5"/>
<rect x="411.84" y="358.07" width="6.14" height="2.45" fill="#3777fe"/>
<rect x="411.84" y="360.51" width="6.14" height="2.45" fill="#3a74ff"/>
<rect x="411.84" y="362.94" width="6.14" height="2.45" fill="#475af9"/>
<rect x="411.84" y="365.37" width="6.14" height="2.45" fill="#473fe3"/>
<rect x="411.84" y="367.8" width="6.14" height="2.45" fill="#4331c8"/>
<rect x="411.84" y="370.24" width="6.14" height="2.45" fill="#402bb7"/>
<rect x="411.84" y="372.67" width="6.14" height="2.45" fill="#3f28ae"/>
<rect x="411.84" y="375.1" width="6.14" height="2.45" fill="#3e27aa"/>
<rect x="411.84" y="377.54" width="6.14" height="2.45" fill="#3e26a9"/>
<rect x="417.96" y="248.6" width="6.14" height="2.45" fill="#3f28ae"/>
<rect x="417.96" y="251.03" width="6.14" height="2.45" fill="#412cba"/>
<rect x="417.96" y="253.46" width="6.14" height="2.45" fill="#4535d2"/>
<rect x="417.96" y="255.9" width="6.14" height="2.45" fill="#4849ed"/>
<rect x="417.96" y="258.33" width="6.14" height="2.45" fill="#4563fd"/>
<rect x="417.96" y="260.76" width="6.14" height="2.45" fill="#347afd"/>
<rect x="417.96" y="263.19" width="6.14" height="2.45" fill="#307efb"/>
<rect x="417.96" y="265.63" width="6.14" height="2.45" fill="#416bfe"/>
<rect x="417.96" y="268.06" width="6.14" height="2.45" fill="#484aee"/>
<rect x="417.96" y="270.49" width="6.14" height="2.45" fill="#4332c9"/>
<rect x="417.96" y="272.93" width="6.14" height="2.45" fill="#402ab4"/>
<rect x="417.96" y="275.36" width="6.14" height="2.45" fill="#3f29b0"/>
<rect x="417.96" y="277.79" width="6.14" height="2.45" fill="#402ab5"/>
<rect x="417.96" y="280.22" width="6.14" height="2.45" fill="#402bb8"/>
<rect x="417.96" y="282.66" width="6.14" height="2.45" fill="#4537d6"/>
<rect x="417.96" y="285.09" width="6.14" height="2.45" fill="#422fc2"/>
<rect x="417.96" y="287.52" width="6.14" height="2.45" fill="#3f28af"/>
<rect x="417.96" y="289.95" width="6.14" height="2.45" fill="#4433cb"/>
<rect x="417.96" y="292.39" width="6.14" height="2.45" fill="#402ab5"/>
<rect x="417.96" y="294.82" width="6.14" height="2.45" fill="#402bb7"/>
<rect x="417.96" y="297.25" width="6.14" height="2.45" fill="#412dbd"/>
<rect x="417.96" y="299.69" width="6.14" height="2.45" fill="#3e27ab"/>
<rect x="417.96" y="302.12" width="6.14" height="2.45" fill="#422ec0"/>
<rect x="417.96" y="304.55" width="6.14" height="2.45" fill="#3e27aa"/>
<rect x="417.96" y="306.98" width="6.14" height="2.45" fill="#412dbd"/>
<rect x="417.96" y="309.42" width="6.14" height="2.45" fill="#3e27aa"/>
<rect x="417.96" y="311.85" width="6.14" height="2.45" fill="#412dbd"/>
<rect x="417.96" y="314.28" width="6.14" height="2.45" fill="#3e27aa"/>
<rect x="417.96" y="316.72" width="6.14" height="2.45" fill="#422ec0"/>
<rect x="417.96" y="319.15" width="6.14" height="2.45" fill="#3e27ab"/>
<rect x="417.96" y="321.58" width="6.14" height="2.45" fill="#412dbd"/>
<rect x="417.96" y="324.01" width="6.14" height="2.45" fill="#402bb7"/>
<rect x="417.96" y="326.45" width="6.14" height="2.45" fill="#402ab5"/>
<rect x="417.96" y="328.88" width="6.14" height="2.45" fill="#4433cb"/>
<rect x="417.96" y="331.31" width="6.14" height="2.45" fill="#3f28af"/>
<rect x="417.96" y="333.75" width="6.14" height="2.45" fill="#422fc2"/>
<rect x="417.96" y="336.18" width="6.14" height="2.45" fill="#4537d6"/>
<rect x="417.96" y="338.61" width="6.14" height="2.45" fill="#402bb8"/>
<rect x="417.96" y="341.04" width="6.14" height="2.45" fill="#402ab5"/>
<rect x="417.96" y="343.48" width="6.14" height="2.45" fill="#3f29b0"/>
<rect x="417.96" y="345.91" width="6.14" height="2.45" fill="#402ab4"/>
<rect x="417.96" y="348.34" width="6.14" height="2.45" fill="#4332c9"/>
<rect x="417.96" y="350.77" width="6.14" height="2.45" fill="#484aee"/>
<rect x="417.96" y="353.21" width="6.14" height="2.45" fill="#416bfe"/>
<rect x="417.96" y="355.64" width="6.14" height="2.45" fill="#307efb"/>
<rect x="417.96" y="358.07" width="6.14" height="2.45" fill="#347afd"/>
<rect x="417.96" y="360.51" width="6.14" height="2.45" fill="#4563fd"/>
<rect x="417.96" y="362.94" width="6.14" height="2.45" fill="#4849ed"/>
<rect x="417.96" y="365.37" width="6.14" height="2.45" fill="#4535d2"/>
<rect x="417.96" y="367.8" width="6.14" height="2.45" fill="#412cba"/>
<rect x="417.96" y="370.24" width="6.14" height="2.45" fill="#3f28ae"/>
<rect x="424.08" y="251.03" width="6.14" height="2.45" fill="#3e26a9"/>
<rect x="424.08" y="253.46" width="6.14" height="2.45" fill="#3f29b2"/>
<rect x="424.08" y="255.9" width="6.14" height="2.45" fill="#422fc2"/>
<rect x="424.08" y="258.33" width="6.14" height="2.45" fill="#463ee1"/>
<rect x="424.08" y="260.76" width="6.14" height="2.45" fill="#475bfa"/>
<rect x="424.08" y="263.19" width="6.14" height="2.45" fill="#327bfc"/>
<rect x="424.08" y="265.63" width="6.14" height="2.45" fill="#2d88f6"/>
<rect x="424.08" y="268.06" width="6.14" height="2.45" fill="#327cfc"/>
<rect x="424.08" y="270.49" width="6.14" height="2.45" fill="#4759f9"/>
<rect x="424.08" y="272.93" width="6.14" height="2.45" fill="#4639d9"/>
<rect x="424.08" y="275.36" width="6.14" height="2.45" fill="#412cb9"/>
<rect x="424.08" y="277.79" width="6.14" height="2.45" fill="#3f29b2"/>
<rect x="424.08" y="280.22" width="6.14" height="2.45" fill="#412cb8"/>
<rect x="424.08" y="282.66" width="6.14" height="2.45" fill="#402bb8"/>
<rect x="424.08" y="285.09" width="6.14" height="2.45" fill="#4434ce"/>
<rect x="424.08" y="287.52" width="6.14" height="2.45" fill="#4331c7"/>
<rect x="424.08" y="289.95" width="6.14" height="2.45" fill="#3e27ac"/>
<rect x="424.08" y="292.39" width="6.14" height="2.45" fill="#4230c4"/>
<rect x="424.08" y="294.82" width="6.14" height="2.45" fill="#412cb8"/>
<rect x="424.08" y="297.25" width="6.14" height="2.45" fill="#402ab4"/>
<rect x="424.08" y="299.69" width="6.14" height="2.45" fill="#422fc0"/>
<rect x="424.08" y="302.12" width="6.14" height="2.45" fill="#3e27aa"/>
<rect x="424.08" y="304.55" width="6.14" height="2.45" fill="#422ec0"/>
<rect x="424.08" y="306.98" width="6.14" height="2.45" fill="#3e27aa"/>
<rect x="424.08" y="309.42" width="6.14" height="2.45" fill="#412ebe"/>
<rect x="424.08" y="311.85" width="6.14" height="2.45" fill="#3e27aa"/>
<rect x="424.08" y="314.28" width="6.14" height="2.45" fill="#422ec0"/>
<rect x="424.08" y="316.72" width="6.14" height="2.45" fill="#3e27aa"/>
<rect x="424.08" y="319.15" width="6.14" height="2.45" fill="#422fc0"/>
<rect x="424.08" y="321.58" width="6.14" height="2.45" fill="#402ab4"/>
<rect x="424.08" y="324.01" width="6.14" height="2.45" fill="#412cb8"/>
<rect x="424.08" y="326.45" width="6.14" height="2.45" fill="#4230c4"/>
<rect x="424.08" y="328.88" width="6.14" height="2.45" fill="#3e27ac"/>
<rect x="424.08" y="331.31" width="6.14" height="2.45" fill="#4331c7"/>
<rect x="424.08" y="333.75" width="6.14" height="2.45" fill="#4434ce"/>
<rect x="424.08" y="336.18" width="6.14" height="2.45" fill="#402bb8"/>
<rect x="424.08" y="338.61" width="6.14" height="2.45" fill="#412cb8"/>
<rect x="424.08" y="341.04" width="6.14" height="2.45" fill="#3f29b2"/>
<rect x="424.08" y="343.48" width="6.14" height="2.45" fill="#412cb9"/>
<rect x="424.08" y="345.91" width="6.14" height="2.45" fill="#4639d9"/>
<rect x="424.08" y="348.34" width="6.14" height="2.45" fill="#4759f9"/>
<rect x="424.08" y="350.77" width="6.14" height="2.45" fill="#327cfc"/>
<rect x="424.08" y="353.21" width="6.14" height="2.45" fill="#2d88f6"/>
<rect x="424.08" y="355.64" width="6.14" height="2.45" fill="#327bfc"/>
<rect x="424.08" y="358.07" width="6.14" height="2.45" fill="#475bfa"/>
<rect x="424.08" y="360.51" width="6.14" height="2.45" fill="#463ee1"/>
<rect x="424.08" y="362.94" width="6.14" height="2.45" fill="#422fc2"/>
<rect x="424.08" y="365.37" width="6.14" height="2.45" fill="#3f29b2"/>
<rect x="424.08" y="367.8" width="6.14" height="2.45" fill="#3e26a9"/>
<rect x="430.21" y="255.9" width="6.14" height="2.45" fill="#3e27ac"/>
<rect x="430.21" y="258.33" width="6.14" height="2.45" fill="#412cb9"/>
<rect x="430.21" y="260.76" width="6.14" height="2.45" fill="#4536d3"/>
<rect x="430.21" y="263.19" width="6.14" height="2.45" fill="#484ff2"/>
<rect x="430.21" y="265.63" width="6.14" height="2.45" fill="#3b73ff"/>
<rect x="430.21" y="268.06" width="6.14" height="2.45" fill="#2d8df2"/>
<rect x="430.21" y="270.49" width="6.14" height="2.45" fill="#2d8cf3"/>
<rect x="430.21" y="272.93" width="6.14" height="2.45" fill="#406dfe"/>
<rect x="430.21" y="275.36" width="6.14" height="2.45" fill="#4744e8"/>
<rect x="430.21" y="277.79" width="6.14" height="2.45" fill="#422ebf"/>
<rect x="430.21" y="280.22" width="6.14" height="2.45" fill="#402ab4"/>
<rect x="430.21" y="282.66" width="6.14" height="2.45" fill="#412ebd"/>
<rect x="430.21" y="285.09" width="6.14" height="2.45" fill="#412dbc"/>
<rect x="430.21" y="287.52" width="6.14" height="2.45" fill="#4330c5"/>
<rect x="430.21" y="289.95" width="6.14" height="2.45" fill="#4332ca"/>
<rect x="430.21" y="292.39" width="6.14" height="2.45" fill="#3f28af"/>
<rect x="430.21" y="294.82" width="6.14" height="2.45" fill="#422ebf"/>
<rect x="430.21" y="297.25" width="6.14" height="2.45" fill="#412dbc"/>
<rect x="430.21" y="299.69" width="6.14" height="2.45" fill="#3f28af"/>
<rect x="430.21" y="302.12" width="6.14" height="2.45" fill="#4230c3"/>
<rect x="430.21" y="304.55" width="6.14" height="2.45" fill="#3e27aa"/>
<rect x="430.21" y="306.98" width="6.14" height="2.45" fill="#422fc0"/>
<rect x="430.21" y="309.42" width="6.14" height="2.45" fill="#3e27aa"/>
<rect x="430.21" y="311.85" width="6.14" height="2.45" fill="#422fc0"/>
<rect x="430.21" y="314.28" width="6.14" height="2.45" fill="#3e27aa"/>
<rect x="430.21" y="316.72" width="6.14" height="2.45" fill="#4230c3"/>
<rect x="430.21" y="319.15" width="6.14" height="2.45" fill="#3f28af"/>
<rect x="430.21" y="321.58" width="6.14" height="2.45" fill="#412dbc"/>
<rect x="430.21" y="324.01" width="6.14" height="2.45" fill="#422ebf"/>
<rect x="430.21" y="326.45" width="6.14" height="2.45" fill="#3f28af"/>
<rect x="430.21" y="328.88" width="6.14" height="2.45" fill="#4332ca"/>
<rect x="430.21" y="331.31" width="6.14" height="2.45" fill="#4330c5"/>
<rect x="430.21" y="333.75" width="6.14" height="2.45" fill="#412dbc"/>
<rect x="430.21" y="336.18" width="6.14" height="2.45" fill="#412ebd"/>
<rect x="430.21" y="338.61" width="6.14" height="2.45" fill="#402ab4"/>
<rect x="430.21" y="341.04" width="6.14" height="2.45" fill="#422ebf"/>
<rect x="430.21" y="343.48" width="6.14" height="2.45" fill="#4744e8"/>
<rect x="430.21" y="345.91" width="6.14" height="2.45" fill="#406dfe"/>
<rect x="430.21" y="348.34" width="6.14" height="2.45" fill="#2d8cf3"/>
<rect x="430.21" y="350.77" width="6.14" height="2.45" fill="#2d8df2"/>
<rect x="430.21" y="353.21" width="6.14" height="2.45" fill="#3b73ff"/>
<rect x="430.21" y="355.64" width="6.14" height="2.45" fill="#484ff2"/>
<rect x="430.21" y="358.07" width="6.14" height="2.45" fill="#4536d3"/>
<rect x="430.21" y="360.51" width="6.14" height="2.45" fill="#412cb9"/>
<rect x="430.21" y="362.94" width="6.14" height="2.45" fill="#3e27ac"/>
<rect x="436.33" y="260.76" width="6.14" height="2.45" fill="#3f28b0"/>
<rect x="436.33" y="263.19" width="6.14" height="2.45" fill="#422fc1"/>
<rect x="436.33" y="265.63" width="6.14" height="2.45" fill="#4740e3"/>
<rect x="436.33" y="268.06" width="6.14" height="2.45" fill="#4564fd"/>
<rect x="436.33" y="270.49" width="6.14" height="2.45" fill="#2d8df2"/>
<rect x="436.33" y="272.93" width="6.14" height="2.45" fill="#269ae9"/>
<rect x="436.33" y="275.36" width="6.14" height="2.45" fill="#2e83f9"/>
<rect x="436.33" y="277.79" width="6.14" height="2.45" fill="#4851f4"/>
<rect x="436.33" y="280.22" width="6.14" height="2.45" fill="#4331c6"/>
<rect x="436.33" y="282.66" width="6.14" height="2.45" fill="#402ab6"/>
<rect x="436.33" y="285.09" width="6.14" height="2.45" fill="#422fc3"/>
<rect x="436.33" y="287.52" width="6.14" height="2.45" fill="#4331c7"/>
<rect x="436.33" y="289.95" width="6.14" height="2.45" fill="#412dbd"/>
<rect x="436.33" y="292.39" width="6.14" height="2.45" fill="#4536d4"/>
<rect x="436.33" y="294.82" width="6.14" height="2.45" fill="#402ab4"/>
<rect x="436.33" y="297.25" width="6.14" height="2.45" fill="#412dbc"/>
<rect x="436.33" y="299.69" width="6.14" height="2.45" fill="#422ec0"/>
<rect x="436.33" y="302.12" width="6.14" height="2.45" fill="#3f28ad"/>
<rect x="436.33" y="304.55" width="6.14" height="2.45" fill="#4230c3"/>
<rect x="436.33" y="306.98" width="6.14" height="2.45" fill="#3e27aa"/>
<rect x="436.33" y="309.42" width="6.14" height="2.45" fill="#422fc1"/>
<rect x="436.33" y="311.85" width="6.14" height="2.45" fill="#3e27aa"/>
<rect x="436.33" y="314.28" width="6.14" height="2.45" fill="#4230c3"/>
<rect x="436.33" y="316.72" width="6.14" height="2.45" fill="#3f28ad"/>
<rect x="436.33" y="319.15" width="6.14" height="2.45" fill="#422ec0"/>
<rect x="436.33" y="321.58" width="6.14" height="2.45" fill="#412dbc"/>
<rect x="436.33" y="324.01" width="6.14" height="2.45" fill="#402ab4"/>
<rect x="436.33" y="326.45" width="6.14" height="2.45" fill="#4536d4"/>
<rect x="436.33" y="328.88" width="6.14" height="2.45" fill="#412dbd"/>
<rect x="436.33" y="331.31" width="6.14" height="2.45" fill="#4331c7"/>
<rect x="436.33" y="333.75" width="6.14" height="2.45" fill="#422fc3"/>
<rect x="436.33" y="336.18" width="6.14" height="2.45" fill="#402ab6"/>
<rect x="436.33" y="338.61" width="6.14" height="2.45" fill="#4331c6"/>
<rect x="436.33" y="341.04" width="6.14" height="2.45" fill="#4851f4"/>
<rect x="436.33" y="343.48" width="6.14" height="2.45" fill="#2e83f9"/>
<rect x="436.33" y="345.91" width="6.14" height="2.45" fill="#269ae9"/>
<rect x="436.33" y="348.34" width="6.14" height="2.45" fill="#2d8df2"/>
<rect x="436.33" y="350.77" width="6.14" height="2.45" fill="#4564fd"/>
<rect x="436.33" y="353.21" width="6.14" height="2.45" fill="#4740e3"/>
<rect x="436.33" y="355.64" width="6.14" height="2.45" fill="#422fc1"/>
<rect x="436.33" y="358.07" width="6.14" height="2.45" fill="#3f28b0"/>
<rect x="442.45" y="265.63" width="6.14" height="2.45" fill="#3f29b2"/>
<rect x="442.45" y="268.06" width="6.14" height="2.45" fill="#4331c8"/>
<rect x="442.45" y="270.49" width="6.14" height="2.45" fill="#484cef"/>
<rect x="442.45" y="272.93" width="6.14" height="2.45" fill="#3479fd"/>
<rect x="442.45" y="275.36" width="6.14" height="2.45" fill="#269ae9"/>
<rect x="442.45" y="277.79" width="6.14" height="2.45" fill="#2896ec"/>
<rect x="442.45" y="280.22" width="6.14" height="2.45" fill="#426bfe"/>
<rect x="442.45" y="282.66" width="6.14" height="2.45" fill="#463adc"/>
<rect x="442.45" y="285.09" width="6.14" height="2.45" fill="#412cba"/>
<rect x="442.45" y="287.52" width="6.14" height="2.45" fill="#4331c8"/>
<rect x="442.45" y="289.95" width="6.14" height="2.45" fill="#4538d8"/>
<rect x="442.45" y="292.39" width="6.14" height="2.45" fill="#402ab6"/>
<rect x="442.45" y="294.82" width="6.14" height="2.45" fill="#463adb"/>
<rect x="442.45" y="297.25" width="6.14" height="4.89" fill="#412cba"/>
<rect x="442.45" y="302.12" width="6.14" height="2.45" fill="#4230c4"/>
<rect x="442.45" y="304.55" width="6.14" height="2.45" fill="#3e27ac"/>
<rect x="442.45" y="306.98" width="6.14" height="2.45" fill="#4230c4"/>
<rect x="442.45" y="309.42" width="6.14" height="2.45" fill="#3e27aa"/>
<rect x="442.45" y="311.85" width="6.14" height="2.45" fill="#4230c4"/>
<rect x="442.45" y="314.28" width="6.14" height="2.45" fill="#3e27ac"/>
<rect x="442.45" y="316.72" width="6.14" height="2.45" fill="#4230c4"/>
<rect x="442.45" y="319.15" width="6.14" height="4.89" fill="#412cba"/>
<rect x="442.45" y="324.01" width="6.14" height="2.45" fill="#463adb"/>
<rect x="442.45" y="326.45" width="6.14" height="2.45" fill="#402ab6"/>
<rect x="442.45" y="328.88" width="6.14" height="2.45" fill="#4538d8"/>
<rect x="442.45" y="331.31" width="6.14" height="2.45" fill="#4331c8"/>
<rect x="442.45" y="333.75" width="6.14" height="2.45" fill="#412cba"/>
<rect x="442.45" y="336.18" width="6.14" height="2.45" fill="#463adc"/>
<rect x="442.45" y="338.61" width="6.14" height="2.45" fill="#426bfe"/>
<rect x="442.45" y="341.04" width="6.14" height="2.45" fill="#2896ec"/>
<rect x="442.45" y="343.48" width="6.14" height="2.45" fill="#269ae9"/>
<rect x="442.45" y="345.91" width="6.14" height="2.45" fill="#3479fd"/>
<rect x="442.45" y="348.34" width="6.14" height="2.45" fill="#484cef"/>
<rect x="442.45" y="350.77" width="6.14" height="2.45" fill="#4331c8"/>
<rect x="442.45" y="353.21" width="6.14" height="2.45" fill="#3f29b2"/>
<rect x="448.57" y="270.49" width="6.14" height="2.45" fill="#402bb7"/>
<rect x="448.57" y="272.93" width="6.14" height="2.45" fill="#4639d9"/>
<rect x="448.57" y="275.36" width="6.14" height="2.45" fill="#4660fb"/>
<rect x="448.57" y="277.79" width="6.14" height="2.45" fill="#2994ed"/>
<rect x="448.57" y="280.22" width="6.14" height="2.45" fill="#1da9e0"/>
<rect x="448.57" y="282.66" width="6.14" height="2.45" fill="#2d8ef1"/>
<rect x="448.57" y="285.09" width="6.14" height="2.45" fill="#4851f3"/>
<rect x="448.57" y="287.52" width="6.14" height="2.45" fill="#4331c7"/>
<rect x="448.57" y="289.95" width="6.14" height="2.45" fill="#4434ce"/>
<rect x="448.57" y="292.39" width="6.14" height="2.45" fill="#463ee1"/>
<rect x="448.57" y="294.82" width="6.14" height="2.45" fill="#3f29b1"/>
<rect x="448.57" y="297.25" width="6.14" height="2.45" fill="#4434d0"/>
<rect x="448.57" y="299.69" width="6.14" height="2.45" fill="#422ebf"/>
<rect x="448.57" y="302.12" width="6.14" height="2.45" fill="#4029b3"/>
<rect x="448.57" y="304.55" width="6.14" height="2.45" fill="#4331c7"/>
<rect x="448.57" y="306.98" width="6.14" height="2.45" fill="#3e27ac"/>
<rect x="448.57" y="309.42" width="6.14" height="2.45" fill="#4330c5"/>
<rect x="448.57" y="311.85" width="6.14" height="2.45" fill="#3e27ac"/>
<rect x="448.57" y="314.28" width="6.14" height="2.45" fill="#4331c7"/>
<rect x="448.57" y="316.72" width="6.14" height="2.45" fill="#4029b3"/>
<rect x="448.57" y="319.15" width="6.14" height="2.45" fill="#422ebf"/>
<rect x="448.57" y="321.58" width="6.14" height="2.45" fill="#4434d0"/>
<rect x="448.57" y="324.01" width="6.14" height="2.45" fill="#3f29b1"/>
<rect x="448.57" y="326.45" width="6.14" height="2.45" fill="#463ee1"/>
<rect x="448.57" y="328.88" width="6.14" height="2.45" fill="#4434ce"/>
<rect x="448.57" y="331.31" width="6.14" height="2.45" fill="#4331c7"/>
<rect x="448.57" y="333.75" width="6.14" height="2.45" fill="#4851f3"/>
<rect x="448.57" y="336.18" width="6.14" height="2.45" fill="#2d8ef1"/>
<rect x="448.57" y="338.61" width="6.14" height="2.45" fill="#1da9e0"/>
<rect x="448.57" y="341.04" width="6.14" height="2.45" fill="#2994ed"/>
<rect x="448.57" y="343.48" width="6.14" height="2.45" fill="#4660fb"/>
<rect x="448.57" y="345.91" width="6.14" height="2.45" fill="#4639d9"/>
<rect x="448.57" y="348.34" width="6.14" height="2.45" fill="#402bb7"/>
<rect x="454.7" y="272.93" width="6.14" height="2.45" fill="#3e27a9"/>
<rect x="454.7" y="275.36" width="6.14" height="2.45" fill="#422ebf"/>
<rect x="454.7" y="277.79" width="6.14" height="2.45" fill="#4745e9"/>
<rect x="454.7" y="280.22" width="6.14" height="2.45" fill="#317dfc"/>
<rect x="454.7" y="282.66" width="6.14" height="2.45" fill="#19acdc"/>
<rect x="454.7" y="285.09" width="6.14" height="2.45" fill="#1babde"/>
<rect x="454.7" y="287.52" width="6.14" height="2.45" fill="#3b73ff"/>
<rect x="454.7" y="289.95" width="6.14" height="2.45" fill="#4538d7"/>
<rect x="454.7" y="292.39" width="6.14" height="2.45" fill="#4536d3"/>
<rect x="454.7" y="294.82" width="6.14" height="2.45" fill="#4740e4"/>
<rect x="454.7" y="297.25" width="6.14" height="2.45" fill="#4029b3"/>
<rect x="454.7" y="299.69" width="6.14" height="2.45" fill="#4331c6"/>
<rect x="454.7" y="302.12" width="6.14" height="2.45" fill="#4330c4"/>
<rect x="454.7" y="304.55" width="6.14" height="2.45" fill="#3f29b1"/>
<rect x="454.7" y="306.98" width="6.14" height="2.45" fill="#4331c8"/>
<rect x="454.7" y="309.42" width="6.14" height="2.45" fill="#3e27ac"/>
<rect x="454.7" y="311.85" width="6.14" height="2.45" fill="#4331c8"/>
<rect x="454.7" y="314.28" width="6.14" height="2.45" fill="#3f29b1"/>
<rect x="454.7" y="316.72" width="6.14" height="2.45" fill="#4330c4"/>
<rect x="454.7" y="319.15" width="6.14" height="2.45" fill="#4331c6"/>
<rect x="454.7" y="321.58" width="6.14" height="2.45" fill="#4029b3"/>
<rect x="454.7" y="324.01" width="6.14" height="2.45" fill="#4740e4"/>
<rect x="454.7" y="326.45" width="6.14" height="2.45" fill="#4536d3"/>
<rect x="454.7" y="328.88" width="6.14" height="2.45" fill="#4538d7"/>
<rect x="454.7" y="331.31" width="6.14" height="2.45" fill="#3b73ff"/>
<rect x="454.7" y="333.75" width="6.14" height="2.45" fill="#1babde"/>
<rect x="454.7" y="336.18" width="6.14" height="2.45" fill="#19acdc"/>
<rect x="454.7" y="338.61" width="6.14" height="2.45" fill="#317dfc"/>
<rect x="454.7" y="341.04" width="6.14" height="2.45" fill="#4745e9"/>
<rect x="454.7" y="343.48" width="6.14" height="2.45" fill="#422ebf"/>
<rect x="454.7" y="345.91" width="6.14" height="2.45" fill="#3e27a9"/>
<rect x="460.82" y="277.79" width="6.14" height="2.45" fill="#3f28af"/>
<rect x="460.82" y="280.22" width="6.14" height="2.45" fill="#4434ce"/>
<rect x="460.82" y="282.66" width="6.14" height="2.45" fill="#465ffb"/>
<rect x="460.82" y="285.09" width="6.14" height="2.45" fill="#21a3e3"/>
<rect x="460.82" y="287.52" width="6.14" height="2.45" fill="#03bbc2"/>
<rect x="460.82" y="289.95" width="6.14" height="2.45" fill="#2994ed"/>
<rect x="460.82" y="292.39" width="6.14" height="2.45" fill="#4747eb"/>
<rect x="460.82" y="294.82" width="6.14" height="2.45" fill="#4537d6"/>
<rect x="460.82" y="297.25" width="6.14" height="2.45" fill="#4740e4"/>
<rect x="460.82" y="299.69" width="6.14" height="2.45" fill="#412dbc"/>
<rect x="460.82" y="302.12" width="6.14" height="2.45" fill="#4230c3"/>
<rect x="460.82" y="304.55" width="6.14" height="2.45" fill="#4432cb"/>
<rect x="460.82" y="306.98" width="6.14" height="2.45" fill="#3f28b0"/>
<rect x="460.82" y="309.42" width="6.14" height="2.45" fill="#4332c9"/>
<rect x="460.82" y="311.85" width="6.14" height="2.45" fill="#3f28b0"/>
<rect x="460.82" y="314.28" width="6.14" height="2.45" fill="#4432cb"/>
<rect x="460.82" y="316.72" width="6.14" height="2.45" fill="#4230c3"/>
<rect x="460.82" y="319.15" width="6.14" height="2.45" fill="#412dbc"/>
<rect x="460.82" y="321.58" width="6.14" height="2.45" fill="#4740e4"/>
<rect x="460.82" y="324.01" width="6.14" height="2.45" fill="#4537d6"/>
<rect x="460.82" y="326.45" width="6.14" height="2.45" fill="#4747eb"/>
<rect x="460.82" y="328.88" width="6.14" height="2.45" fill="#2994ed"/>
<rect x="460.82" y="331.31" width="6.14" height="2.45" fill="#03bbc2"/>
<rect x="460.82" y="333.75" width="6.14" height="2.45" fill="#21a3e3"/>
<rect x="460.82" y="336.18" width="6.14" height="2.45" fill="#465ffb"/>
<rect x="460.82" y="338.61" width="6.14" height="2.45" fill="#4434ce"/>
<rect x="460.82" y="341.04" width="6.14" height="2.45" fill="#3f28af"/>
<rect x="466.94" y="282.66" width="6.14" height="2.45" fill="#402bb7"/>
<rect x="466.94" y="285.09" width="6.14" height="2.45" fill="#4743e7"/>
<rect x="466.94" y="287.52" width="6.14" height="2.45" fill="#2d89f5"/>
<rect x="466.94" y="289.95" width="6.14" height="2.45" fill="#02bbc2"/>
<rect x="466.94" y="292.39" width="6.14" height="2.45" fill="#12b1d7"/>
<rect x="466.94" y="294.82" width="6.14" height="2.45" fill="#465ffb"/>
<rect x="466.94" y="297.25" width="6.14" height="2.45" fill="#4639da"/>
<rect x="466.94" y="299.69" width="6.14" height="2.45" fill="#463ee1"/>
<rect x="466.94" y="302.12" width="6.14" height="2.45" fill="#4331c6"/>
<rect x="466.94" y="304.55" width="6.14" height="2.45" fill="#412cba"/>
<rect x="466.94" y="306.98" width="6.14" height="2.45" fill="#4433ce"/>
<rect x="466.94" y="309.42" width="6.14" height="2.45" fill="#3f29b0"/>
<rect x="466.94" y="311.85" width="6.14" height="2.45" fill="#4433ce"/>
<rect x="466.94" y="314.28" width="6.14" height="2.45" fill="#412cba"/>
<rect x="466.94" y="316.72" width="6.14" height="2.45" fill="#4331c6"/>
<rect x="466.94" y="319.15" width="6.14" height="2.45" fill="#463ee1"/>
<rect x="466.94" y="321.58" width="6.14" height="2.45" fill="#4639da"/>
<rect x="466.94" y="324.01" width="6.14" height="2.45" fill="#465ffb"/>
<rect x="466.94" y="326.45" width="6.14" height="2.45" fill="#12b1d7"/>
<rect x="466.94" y="328.88" width="6.14" height="2.45" fill="#02bbc2"/>
<rect x="466.94" y="331.31" width="6.14" height="2.45" fill="#2d89f5"/>
<rect x="466.94" y="333.75" width="6.14" height="2.45" fill="#4743e7"/>
<rect x="466.94" y="336.18" width="6.14" height="2.45" fill="#402bb7"/>
<rect x="473.06" y="287.52" width="6.14" height="2.45" fill="#4331c6"/>
<rect x="473.06" y="289.95" width="6.14" height="2.45" fill="#465efb"/>
<rect x="473.06" y="292.39" width="6.14" height="2.45" fill="#0db3d3"/>
<rect x="473.06" y="294.82" width="6.14" height="2.45" fill="#18bfb6"/>
<rect x="473.06" y="297.25" width="6.14" height="2.45" fill="#2f80fb"/>
<rect x="473.06" y="299.69" width="6.14" height="2.45" fill="#4741e5"/>
<rect x="473.06" y="302.12" width="6.14" height="2.45" fill="#4847ec"/>
<rect x="473.06" y="304.55" width="6.14" height="2.45" fill="#4434d0"/>
<rect x="473.06" y="306.98" width="6.14" height="2.45" fill="#412cb8"/>
<rect x="473.06" y="309.42" width="6.14" height="2.45" fill="#4434cf"/>
<rect x="473.06" y="311.85" width="6.14" height="2.45" fill="#412cb8"/>
<rect x="473.06" y="314.28" width="6.14" height="2.45" fill="#4434d0"/>
<rect x="473.06" y="316.72" width="6.14" height="2.45" fill="#4847ec"/>
<rect x="473.06" y="319.15" width="6.14" height="2.45" fill="#4741e5"/>
<rect x="473.06" y="321.58" width="6.14" height="2.45" fill="#2f80fb"/>
<rect x="473.06" y="324.01" width="6.14" height="2.45" fill="#18bfb6"/>
<rect x="473.06" y="326.45" width="6.14" height="2.45" fill="#0db3d3"/>
<rect x="473.06" y="328.88" width="6.14" height="2.45" fill="#465efb"/>
<rect x="473.06" y="331.31" width="6.14" height="2.45" fill="#4331c6"/>
<rect x="479.19" y="289.95" width="6.14" height="2.45" fill="#4029b3"/>
<rect x="479.19" y="292.39" width="6.14" height="2.45" fill="#4745e9"/>
<rect x="479.19" y="294.82" width="6.14" height="2.45" fill="#23a0e5"/>
<rect x="479.19" y="297.25" width="6.14" height="2.45" fill="#34c79b"/>
<rect x="479.19" y="299.69" width="6.14" height="2.45" fill="#2798ea"/>
<rect x="479.19" y="302.12" width="6.14" height="2.45" fill="#4849ed"/>
<rect x="479.19" y="304.55" width="6.14" height="2.45" fill="#463adb"/>
<rect x="479.19" y="306.98" width="6.14" height="2.45" fill="#4538d8"/>
<rect x="479.19" y="309.42" width="6.14" height="2.45" fill="#412cb9"/>
<rect x="479.19" y="311.85" width="6.14" height="2.45" fill="#4538d8"/>
<rect x="479.19" y="314.28" width="6.14" height="2.45" fill="#463adb"/>
<rect x="479.19" y="316.72" width="6.14" height="2.45" fill="#4849ed"/>
<rect x="479.19" y="319.15" width="6.14" height="2.45" fill="#2798ea"/>
<rect x="479.19" y="321.58" width="6.14" height="2.45" fill="#34c79b"/>
<rect x="479.19" y="324.01" width="6.14" height="2.45" fill="#23a0e5"/>
<rect x="479.19" y="326.45" width="6.14" height="2.45" fill="#4745e9"/>
<rect x="479.19" y="328.88" width="6.14" height="2.45" fill="#4029b3"/>
<rect x="485.31" y="294.82" width="6.14" height="2.45" fill="#422ebe"/>
<rect x="485.31" y="297.25" width="6.14" height="2.45" fill="#4467fd"/>
<rect x="485.31" y="299.69" width="6.14" height="2.45" fill="#35c799"/>
<rect x="485.31" y="302.12" width="6.14" height="2.45" fill="#2bc3a8"/>
<rect x="485.31" y="304.55" width="6.14" height="2.45" fill="#4758f8"/>
<rect x="485.31" y="306.98" width="6.14" height="2.45" fill="#4536d5"/>
<rect x="485.31" y="309.42" width="6.14" height="2.45" fill="#4639da"/>
<rect x="485.31" y="311.85" width="6.14" height="2.45" fill="#4536d5"/>
<rect x="485.31" y="314.28" width="6.14" height="2.45" fill="#4758f8"/>
<rect x="485.31" y="316.72" width="6.14" height="2.45" fill="#2bc3a8"/>
<rect x="485.31" y="319.15" width="6.14" height="2.45" fill="#35c799"/>
<rect x="485.31" y="321.58" width="6.14" height="2.45" fill="#4467fd"/>
<rect x="485.31" y="324.01" width="6.14" height="2.45" fill="#422ebe"/>
<rect x="491.43" y="297.25" width="6.14" height="2.45" fill="#3f29b0"/>
<rect x="491.43" y="299.69" width="6.14" height="2.45" fill="#475cfa"/>
<rect x="491.43" y="302.12" width="6.14" height="2.45" fill="#72cd63"/>
<rect x="491.43" y="304.55" width="6.14" height="2.45" fill="#a6c83c"/>
<rect x="491.43" y="306.98" width="6.14" height="2.45" fill="#3f6eff"/>
<rect x="491.43" y="309.42" width="6.14" height="2.45" fill="#4537d5"/>
<rect x="491.43" y="311.85" width="6.14" height="2.45" fill="#3f6eff"/>
<rect x="491.43" y="314.28" width="6.14" height="2.45" fill="#a6c83c"/>
<rect x="491.43" y="316.72" width="6.14" height="2.45" fill="#72cd63"/>
<rect x="491.43" y="319.15" width="6.14" height="2.45" fill="#475cfa"/>
<rect x="491.43" y="321.58" width="6.14" height="2.45" fill="#3f29b0"/>
<rect x="497.55" y="302.12" width="6.14" height="2.45" fill="#484aee"/>
<rect x="497.55" y="304.55" width="6.14" height="2.45" fill="#05b6ce"/>
<rect x="497.55" y="306.98" width="6.14" height="2.45" fill="#ddbd29"/>
<rect x="497.55" y="309.42" width="6.14" height="2.45" fill="#426afe"/>
<rect x="497.55" y="311.85" width="6.14" height="2.45" fill="#ddbd29"/>
<rect x="497.55" y="314.28" width="6.14" height="2.45" fill="#05b6ce"/>
<rect x="497.55" y="316.72" width="6.14" height="2.45" fill="#484aee"/>
<rect x="503.68" y="306.98" width="6.14" height="7.32" fill="#f9fa15"/>
</g></g>
<rect x="320" y="234" width="189.8" height="155.7" fill="none" stroke="#1a1a1a" stroke-width="0.7" stroke-opacity="0.85"/>
<line x1="347.55" y1="389.7" x2="347.55" y2="387.7" stroke="#262626" stroke-width="0.5" stroke-opacity="0.6"/>
<line x1="347.55" y1="234" x2="347.55" y2="236" stroke="#262626" stroke-width="0.5" stroke-opacity="0.6"/>
<text x="347.55" y="402.2" text-anchor="middle">5</text>
<line x1="378.16" y1="389.7" x2="378.16" y2="387.7" stroke="#262626" stroke-width="0.5" stroke-opacity="0.6"/>
<line x1="378.16" y1="234" x2="378.16" y2="236" stroke="#262626" stroke-width="0.5" stroke-opacity="0.6"/>
<text x="378.16" y="402.2" text-anchor="middle">10</text>
<line x1="408.78" y1="389.7" x2="408.78" y2="387.7" stroke="#262626" stroke-width="0.5" stroke-opacity="0.6"/>
<line x1="408.78" y1="234" x2="408.78" y2="236" stroke="#262626" stroke-width="0.5" stroke-opacity="0.6"/>
<text x="408.78" y="402.2" text-anchor="middle">15</text>
<line x1="439.39" y1="389.7" x2="439.39" y2="387.7" stroke="#262626" stroke-width="0.5" stroke-opacity="0.6"/>
<line x1="439.39" y1="234" x2="439.39" y2="236" stroke="#262626" stroke-width="0.5" stroke-opacity="0.6"/>
<text x="439.39" y="402.2" text-anchor="middle">20</text>
<line x1="470" y1="389.7" x2="470" y2="387.7" stroke="#262626" stroke-width="0.5" stroke-opacity="0.6"/>
<line x1="470" y1="234" x2="470" y2="236" stroke="#262626" stroke-width="0.5" stroke-opacity="0.6"/>
<text x="470" y="402.2" text-anchor="middle">25</text>
<line x1="500.62" y1="389.7" x2="500.62" y2="387.7" stroke="#262626" stroke-width="0.5" stroke-opacity="0.6"/>
<line x1="500.62" y1="234" x2="500.62" y2="236" stroke="#262626" stroke-width="0.5" stroke-opacity="0.6"/>
<text x="500.62" y="402.2" text-anchor="middle">30</text>
<text x="317" y="237.8" text-anchor="end">-32</text>
<text x="317" y="275.3" text-anchor="end">-16</text>
<text x="317" y="313" text-anchor="end">0</text>
<text x="317" y="352.3" text-anchor="end">16</text>
<text x="317" y="391.8" text-anchor="end">32</text>
<line x1="320" y1="271.71" x2="322" y2="271.71" stroke="#262626" stroke-width="0.5" stroke-opacity="0.6"/>
<line x1="509.8" y1="271.71" x2="507.8" y2="271.71" stroke="#262626" stroke-width="0.5" stroke-opacity="0.6"/>
<line x1="320" y1="310.63" x2="322" y2="310.63" stroke="#262626" stroke-width="0.5" stroke-opacity="0.6"/>
<line x1="509.8" y1="310.63" x2="507.8" y2="310.63" stroke="#262626" stroke-width="0.5" stroke-opacity="0.6"/>
<line x1="320" y1="349.56" x2="322" y2="349.56" stroke="#262626" stroke-width="0.5" stroke-opacity="0.6"/>
<line x1="509.8" y1="349.56" x2="507.8" y2="349.56" stroke="#262626" stroke-width="0.5" stroke-opacity="0.6"/>
<text x="383.7" y="414" font-weight="bold" font-size="10" textLength="62.4" lengthAdjust="spacingAndGlyphs">Time (Kicks)</text>
<text transform="translate(299.6,312) rotate(-90)" x="-27.5" font-weight="bold" font-size="10" textLength="55" lengthAdjust="spacingAndGlyphs">Momentum</text>
<defs><linearGradient id="gd" x1="0" y1="0" x2="0" y2="1"><stop offset="0.0000" stop-color="#f9fb15"/><stop offset="0.0625" stop-color="#f5e327"/><stop offset="0.1250" stop-color="#feca33"/><stop offset="0.1875" stop-color="#f1ba37"/><stop offset="0.2500" stop-color="#c8c129"/><stop offset="0.3125" stop-color="#94ca4a"/><stop offset="0.3750" stop-color="#5ccc76"/><stop offset="0.4375" stop-color="#34c79c"/><stop offset="0.5000" stop-color="#12beb9"/><stop offset="0.5625" stop-color="#0cb3d3"/><stop offset="0.6250" stop-color="#21a3e3"/><stop offset="0.6875" stop-color="#2c90f0"/><stop offset="0.7500" stop-color="#347afd"/><stop offset="0.8125" stop-color="#4562fc"/><stop offset="0.8750" stop-color="#484cef"/><stop offset="0.9375" stop-color="#4536d5"/><stop offset="1.0000" stop-color="#3e26a8"/></linearGradient></defs>
<rect x="514.1" y="233.5" width="10.9" height="156.8" fill="url(#gd)" stroke="#262626" stroke-width="0.5" stroke-opacity="0.7"/>
<line x1="525" y1="390.3" x2="523.5" y2="390.3" stroke="#262626" stroke-width="0.5" stroke-opacity="0.7"/>
<text x="528" y="392.9" font-family="'Liberation Sans', sans-serif" font-size="8.4" style="stroke:none">0</text>
<line x1="525" y1="366.83" x2="523.5" y2="366.83" stroke="#262626" stroke-width="0.5" stroke-opacity="0.7"/>
<text x="528" y="369.43" font-family="'Liberation Sans', sans-serif" font-size="8.4" style="stroke:none">0.05</text>
<line x1="525" y1="343.35" x2="523.5" y2="343.35" stroke="#262626" stroke-width="0.5" stroke-opacity="0.7"/>
<text x="528" y="345.95" font-family="'Liberation Sans', sans-serif" font-size="8.4" style="stroke:none">0.1</text>
<line x1="525" y1="319.88" x2="523.5" y2="319.88" stroke="#262626" stroke-width="0.5" stroke-opacity="0.7"/>
<text x="528" y="322.48" font-family="'Liberation Sans', sans-serif" font-size="8.4" style="stroke:none">0.15</text>
<line x1="525" y1="296.41" x2="523.5" y2="296.41" stroke="#262626" stroke-width="0.5" stroke-opacity="0.7"/>
<text x="528" y="299.01" font-family="'Liberation Sans', sans-serif" font-size="8.4" style="stroke:none">0.2</text>
<line x1="525" y1="272.93" x2="523.5" y2="272.93" stroke="#262626" stroke-width="0.5" stroke-opacity="0.7"/>
<text x="528" y="275.53" font-family="'Liberation Sans', sans-serif" font-size="8.4" style="stroke:none">0.25</text>
<line x1="525" y1="249.46" x2="523.5" y2="249.46" stroke="#262626" stroke-width="0.5" stroke-opacity="0.7"/>
<text x="528" y="252.06" font-family="'Liberation Sans', sans-serif" font-size="8.4" style="stroke:none">0.3</text>
<text x="423.5" y="436.6" text-anchor="middle" font-weight="bold" font-size="10">(d)</text>
</svg></body></html>
